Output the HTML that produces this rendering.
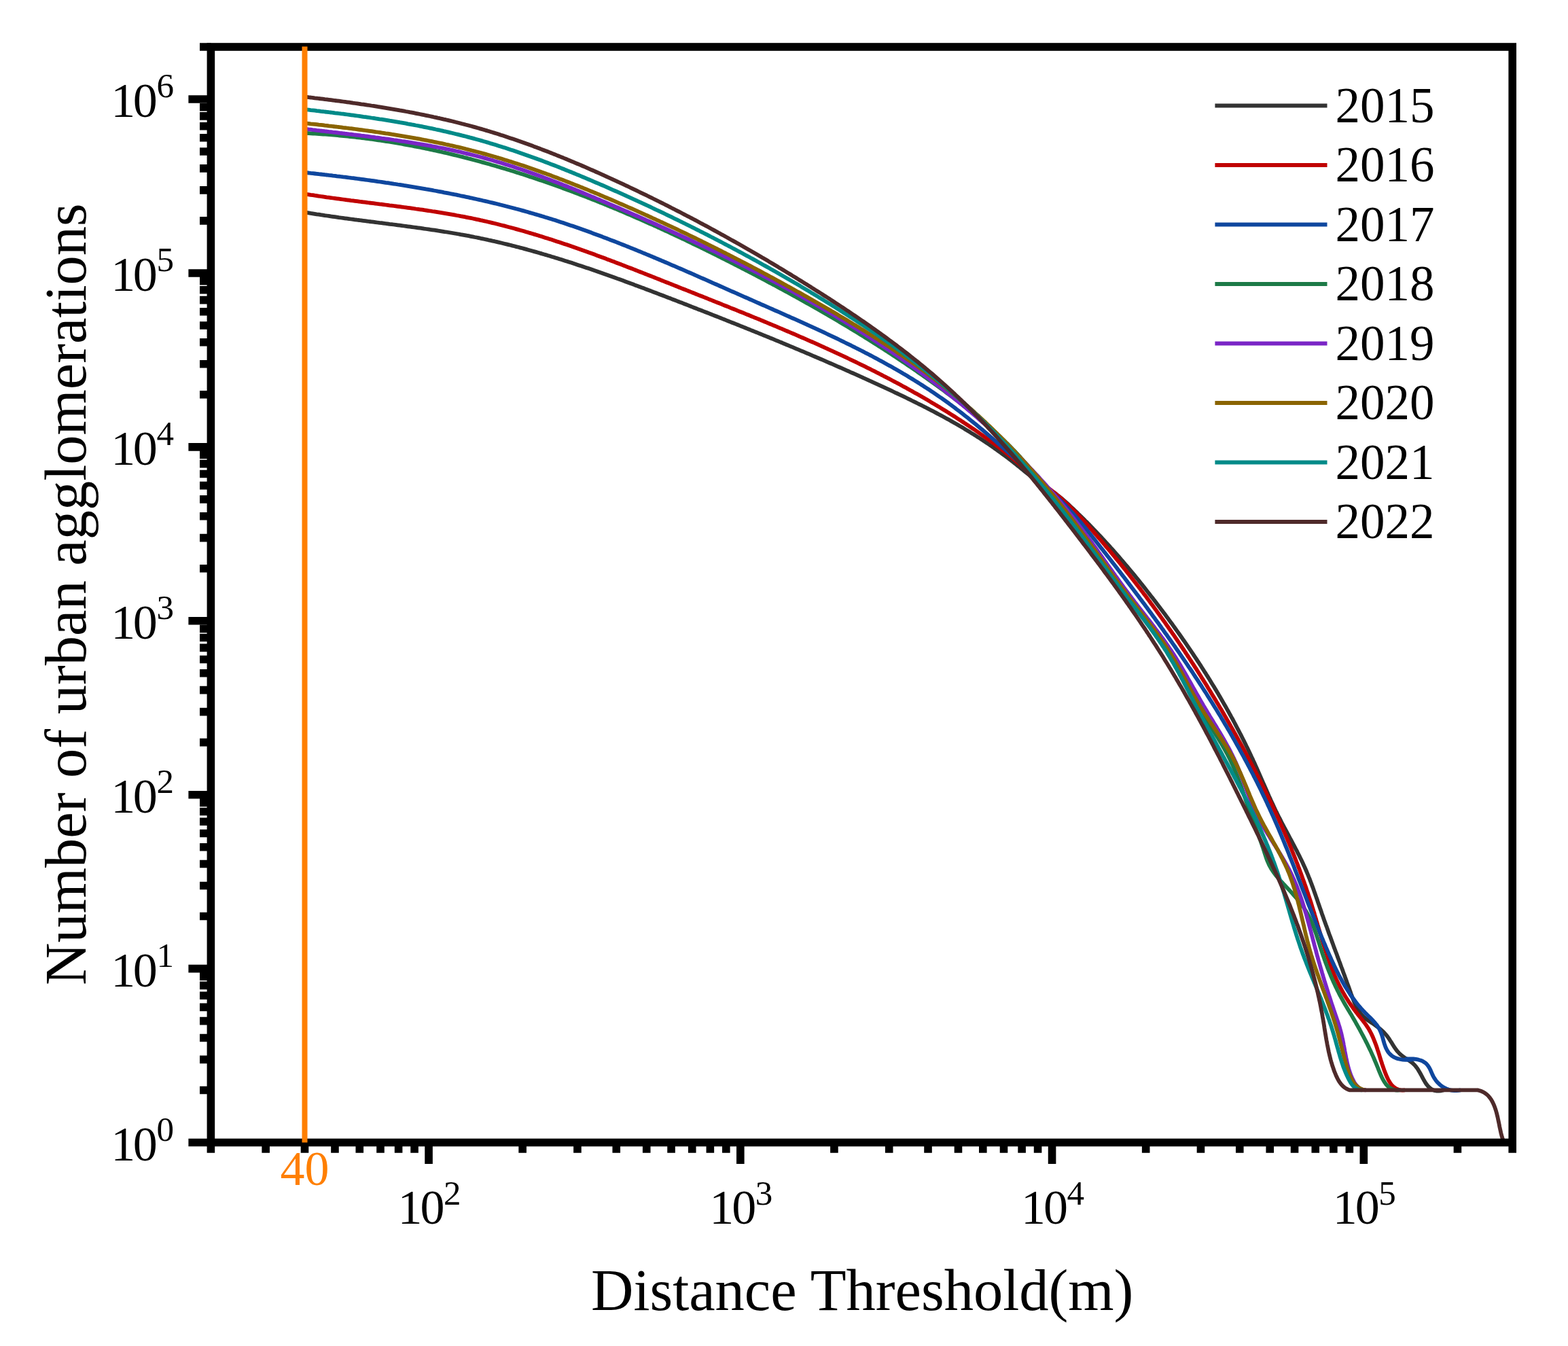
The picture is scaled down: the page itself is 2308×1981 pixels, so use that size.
<!DOCTYPE html><html><head><meta charset="utf-8"><title>Distance Threshold chart</title><style>html,body{margin:0;padding:0;background:#fff;}svg{display:block;}</style></head><body>
<svg width="2308" height="1981" viewBox="0 0 2308 1981">
<rect x="0" y="0" width="2308" height="1981" fill="#fff"/>
<path d="M448.5,312.4L451.4,312.9L454.4,313.4L457.3,313.9L460.3,314.3L463.2,314.8L466.2,315.3L469.1,315.7L472.1,316.2L475.1,316.6L478.0,317.1L481.0,317.5L484.0,317.9L486.9,318.4L489.9,318.8L492.9,319.2L495.8,319.6L498.8,320.1L501.8,320.5L504.8,320.9L507.7,321.3L510.7,321.7L513.7,322.1L516.7,322.5L519.7,322.9L522.6,323.3L525.6,323.7L528.6,324.0L531.6,324.4L534.6,324.8L537.6,325.2L540.6,325.6L543.6,326.0L546.6,326.3L549.5,326.7L552.5,327.1L555.5,327.5L558.5,327.9L561.5,328.2L564.5,328.6L567.5,329.0L570.5,329.4L573.5,329.8L576.5,330.1L579.5,330.5L582.5,330.9L585.5,331.3L588.5,331.7L591.5,332.1L594.5,332.5L597.4,332.9L600.4,333.3L603.4,333.7L606.4,334.1L609.4,334.5L612.4,334.9L615.4,335.3L618.4,335.7L621.4,336.1L624.4,336.6L627.3,337.0L630.3,337.4L633.3,337.9L636.3,338.3L639.3,338.7L642.3,339.2L645.3,339.7L648.2,340.1L651.2,340.6L654.2,341.1L657.2,341.5L660.1,342.0L663.1,342.5L666.1,343.0L669.0,343.5L672.0,344.0L675.0,344.5L677.9,345.1L680.9,345.6L683.9,346.1L686.8,346.7L689.8,347.2L692.7,347.8L695.7,348.4L698.6,349.0L701.6,349.5L704.5,350.1L707.5,350.8L710.4,351.4L713.3,352.0L716.3,352.6L719.2,353.3L722.1,353.9L725.1,354.6L728.0,355.2L730.9,355.9L733.9,356.6L736.8,357.3L739.7,358.0L742.6,358.7L745.5,359.4L748.4,360.1L751.3,360.8L754.3,361.6L757.2,362.3L760.1,363.1L763.0,363.8L765.9,364.6L768.8,365.3L771.7,366.1L774.6,366.9L777.4,367.7L780.3,368.5L783.2,369.3L786.1,370.1L789.0,370.9L791.9,371.7L794.8,372.6L797.6,373.4L800.5,374.3L803.4,375.1L806.3,376.0L809.2,376.8L812.0,377.7L814.9,378.5L817.8,379.4L820.6,380.3L823.5,381.2L826.4,382.1L829.2,383.0L832.1,383.9L834.9,384.8L837.8,385.7L840.7,386.6L843.5,387.6L846.4,388.5L849.2,389.4L852.1,390.4L854.9,391.3L857.8,392.3L860.6,393.2L863.5,394.2L866.3,395.1L869.2,396.1L872.0,397.1L874.8,398.1L877.7,399.0L880.5,400.0L883.4,401.0L886.2,402.0L889.0,403.0L891.9,404.0L894.7,405.0L897.5,406.0L900.4,407.0L903.2,408.0L906.0,409.0L908.9,410.1L911.7,411.1L914.5,412.1L917.3,413.1L920.2,414.2L923.0,415.2L925.8,416.2L928.6,417.3L931.5,418.3L934.3,419.4L937.1,420.4L939.9,421.5L942.7,422.5L945.5,423.6L948.4,424.6L951.2,425.7L954.0,426.8L956.8,427.8L959.6,428.9L962.4,430.0L965.3,431.0L968.1,432.1L970.9,433.2L973.7,434.2L976.5,435.3L979.3,436.4L982.1,437.5L984.9,438.6L987.7,439.6L990.5,440.7L993.4,441.8L996.2,442.9L999.0,444.0L1001.8,445.1L1004.6,446.1L1007.4,447.2L1010.2,448.3L1013.0,449.4L1015.8,450.5L1018.6,451.6L1021.4,452.7L1024.2,453.8L1027.0,454.9L1029.8,455.9L1032.6,457.0L1035.4,458.1L1038.2,459.2L1041.0,460.3L1043.8,461.4L1046.6,462.5L1049.4,463.6L1052.2,464.7L1055.0,465.8L1057.8,466.9L1060.6,468.0L1063.4,469.1L1066.2,470.2L1069.0,471.4L1071.8,472.5L1074.6,473.6L1077.4,474.7L1080.2,475.8L1083.0,476.9L1085.8,478.0L1088.6,479.1L1091.4,480.3L1094.2,481.4L1097.0,482.5L1099.7,483.6L1102.5,484.7L1105.3,485.9L1108.1,487.0L1110.9,488.1L1113.7,489.2L1116.5,490.4L1119.3,491.5L1122.1,492.6L1124.8,493.8L1127.6,494.9L1130.4,496.0L1133.2,497.2L1136.0,498.3L1138.8,499.4L1141.5,500.6L1144.3,501.7L1147.1,502.9L1149.9,504.0L1152.6,505.2L1155.4,506.3L1158.2,507.5L1161.0,508.6L1163.8,509.8L1166.5,510.9L1169.3,512.1L1172.1,513.3L1174.8,514.4L1177.6,515.6L1180.4,516.8L1183.2,517.9L1185.9,519.1L1188.7,520.3L1191.5,521.4L1194.2,522.6L1197.0,523.8L1199.8,525.0L1202.5,526.2L1205.3,527.3L1208.0,528.5L1210.8,529.7L1213.6,530.9L1216.3,532.1L1219.1,533.3L1221.8,534.5L1224.6,535.7L1227.4,536.9L1230.1,538.1L1232.9,539.3L1235.6,540.5L1238.4,541.7L1241.1,542.9L1243.9,544.1L1246.6,545.3L1249.4,546.5L1252.1,547.8L1254.9,549.0L1257.6,550.2L1260.3,551.4L1263.1,552.7L1265.8,553.9L1268.6,555.1L1271.3,556.4L1274.1,557.6L1276.8,558.8L1279.5,560.1L1282.3,561.3L1285.0,562.6L1287.7,563.8L1290.5,565.1L1293.2,566.3L1295.9,567.6L1298.7,568.9L1301.4,570.1L1304.1,571.4L1306.8,572.6L1309.6,573.9L1312.3,575.2L1315.0,576.5L1317.7,577.8L1320.4,579.0L1323.2,580.3L1325.9,581.6L1328.6,582.9L1331.3,584.2L1334.0,585.5L1336.7,586.8L1339.4,588.1L1342.1,589.5L1344.8,590.8L1347.5,592.1L1350.2,593.5L1352.9,594.8L1355.6,596.1L1358.3,597.5L1360.9,598.9L1363.6,600.2L1366.3,601.6L1368.9,603.0L1371.6,604.4L1374.3,605.7L1376.9,607.1L1379.6,608.6L1382.2,610.0L1384.9,611.4L1387.5,612.8L1390.2,614.3L1392.8,615.7L1395.4,617.1L1398.0,618.6L1400.7,620.1L1403.3,621.6L1405.9,623.0L1408.5,624.5L1411.1,626.0L1413.7,627.6L1416.3,629.1L1418.9,630.6L1421.4,632.2L1424.0,633.7L1426.6,635.3L1429.1,636.9L1431.7,638.4L1434.2,640.0L1436.8,641.6L1439.3,643.3L1441.9,644.9L1444.4,646.5L1446.9,648.2L1449.4,649.8L1451.9,651.5L1454.4,653.2L1456.9,654.9L1459.4,656.6L1461.9,658.3L1464.3,660.1L1466.8,661.8L1469.2,663.6L1471.7,665.3L1474.1,667.1L1476.5,668.9L1479.0,670.7L1481.4,672.5L1483.8,674.3L1486.2,676.1L1488.6,678.0L1490.9,679.8L1493.3,681.7L1495.7,683.5L1498.0,685.4L1500.4,687.3L1502.7,689.2L1505.0,691.1L1507.3,693.0L1509.7,694.9L1512.0,696.7L1514.3,698.6L1516.7,700.5L1519.0,702.3L1521.4,704.1L1523.8,705.8L1526.2,707.6L1528.7,709.3L1531.1,710.9L1533.6,712.6L1536.1,714.2L1538.6,715.9L1541.0,717.5L1543.5,719.2L1546.0,720.8L1548.4,722.6L1550.8,724.3L1553.2,726.1L1555.6,727.9L1557.9,729.8L1560.3,731.7L1562.6,733.6L1564.8,735.5L1567.1,737.5L1569.4,739.5L1571.6,741.5L1573.8,743.5L1576.0,745.6L1578.2,747.6L1580.4,749.7L1582.6,751.8L1584.8,753.9L1586.9,756.0L1589.1,758.1L1591.2,760.2L1593.4,762.3L1595.5,764.4L1597.6,766.5L1599.8,768.6L1601.9,770.8L1604.0,772.9L1606.1,775.1L1608.2,777.2L1610.3,779.4L1612.3,781.5L1614.4,783.7L1616.5,785.9L1618.5,788.1L1620.6,790.3L1622.6,792.5L1624.7,794.7L1626.7,796.9L1628.7,799.1L1630.7,801.3L1632.8,803.5L1634.8,805.8L1636.8,808.0L1638.8,810.2L1640.7,812.5L1642.7,814.7L1644.7,817.0L1646.7,819.2L1648.6,821.5L1650.6,823.8L1652.5,826.0L1654.5,828.3L1656.4,830.6L1658.4,832.9L1660.3,835.2L1662.2,837.5L1664.2,839.8L1666.1,842.1L1668.0,844.4L1669.9,846.7L1671.8,849.1L1673.7,851.4L1675.6,853.7L1677.5,856.1L1679.3,858.4L1681.2,860.7L1683.1,863.1L1685.0,865.4L1686.8,867.8L1688.7,870.2L1690.5,872.5L1692.4,874.9L1694.2,877.3L1696.1,879.6L1697.9,882.0L1699.8,884.4L1701.6,886.8L1703.4,889.2L1705.2,891.6L1707.1,894.0L1708.9,896.4L1710.7,898.8L1712.5,901.2L1714.3,903.6L1716.1,906.0L1717.9,908.4L1719.7,910.8L1721.4,913.3L1723.2,915.7L1725.0,918.1L1726.8,920.6L1728.5,923.0L1730.3,925.5L1732.0,927.9L1733.8,930.4L1735.5,932.8L1737.3,935.3L1739.0,937.7L1740.7,940.2L1742.5,942.7L1744.2,945.1L1745.9,947.6L1747.6,950.1L1749.3,952.6L1751.0,955.1L1752.7,957.6L1754.4,960.1L1756.1,962.6L1757.7,965.1L1759.4,967.6L1761.1,970.1L1762.7,972.6L1764.4,975.1L1766.0,977.7L1767.7,980.2L1769.3,982.7L1770.9,985.2L1772.5,987.8L1774.2,990.3L1775.8,992.9L1777.4,995.4L1779.0,998.0L1780.6,1000.5L1782.1,1003.1L1783.7,1005.7L1785.3,1008.2L1786.9,1010.8L1788.4,1013.4L1790.0,1015.9L1791.5,1018.5L1793.1,1021.1L1794.6,1023.7L1796.1,1026.3L1797.6,1028.9L1799.1,1031.5L1800.6,1034.1L1802.1,1036.7L1803.6,1039.3L1805.1,1041.9L1806.6,1044.6L1808.1,1047.2L1809.5,1049.8L1811.0,1052.5L1812.4,1055.1L1813.9,1057.7L1815.3,1060.4L1816.7,1063.0L1818.1,1065.7L1819.5,1068.3L1820.9,1071.0L1822.3,1073.7L1823.7,1076.3L1825.1,1079.0L1826.5,1081.7L1827.8,1084.3L1829.2,1087.0L1830.5,1089.7L1831.9,1092.4L1833.2,1095.1L1834.5,1097.8L1835.9,1100.5L1837.2,1103.2L1838.5,1105.9L1839.7,1108.6L1841.0,1111.3L1842.3,1114.1L1843.6,1116.8L1844.8,1119.5L1846.1,1122.2L1847.3,1125.0L1848.5,1127.7L1849.8,1130.5L1851.0,1133.2L1852.2,1135.9L1853.4,1138.7L1854.6,1141.4L1855.8,1144.2L1857.0,1146.9L1858.2,1149.7L1859.4,1152.4L1860.7,1155.2L1861.9,1157.9L1863.1,1160.7L1864.3,1163.4L1865.5,1166.2L1866.7,1168.9L1867.9,1171.7L1869.2,1174.4L1870.4,1177.2L1871.7,1179.9L1872.9,1182.6L1874.2,1185.3L1875.5,1188.1L1876.7,1190.8L1878.0,1193.5L1879.4,1196.2L1880.7,1198.9L1882.0,1201.6L1883.4,1204.2L1884.8,1206.9L1886.1,1209.6L1887.5,1212.3L1888.9,1214.9L1890.3,1217.6L1891.7,1220.2L1893.2,1222.9L1894.6,1225.6L1896.0,1228.2L1897.4,1230.9L1898.8,1233.5L1900.3,1236.2L1901.7,1238.8L1903.1,1241.5L1904.5,1244.1L1905.9,1246.8L1907.3,1249.5L1908.7,1252.1L1910.0,1254.8L1911.4,1257.5L1912.8,1260.2L1914.1,1262.9L1915.4,1265.6L1916.7,1268.3L1918.0,1271.0L1919.2,1273.8L1920.5,1276.5L1921.7,1279.2L1922.9,1282.0L1924.1,1284.8L1925.2,1287.5L1926.3,1290.3L1927.5,1293.1L1928.5,1295.9L1929.6,1298.7L1930.7,1301.6L1931.7,1304.4L1932.8,1307.2L1933.8,1310.1L1934.8,1312.9L1935.8,1315.7L1936.8,1318.6L1937.8,1321.4L1938.8,1324.3L1939.7,1327.1L1940.7,1330.0L1941.7,1332.8L1942.7,1335.7L1943.7,1338.5L1944.7,1341.3L1945.6,1344.2L1946.6,1347.0L1947.6,1349.8L1948.6,1352.7L1949.6,1355.5L1950.6,1358.3L1951.6,1361.1L1952.7,1363.9L1953.7,1366.8L1954.7,1369.6L1955.7,1372.4L1956.7,1375.2L1957.8,1378.0L1958.8,1380.8L1959.8,1383.6L1960.8,1386.4L1961.9,1389.2L1962.9,1392.1L1963.9,1394.9L1965.0,1397.7L1966.0,1400.5L1967.1,1403.3L1968.1,1406.1L1969.1,1408.9L1970.2,1411.7L1971.2,1414.5L1972.3,1417.3L1973.3,1420.2L1974.3,1423.0L1975.4,1425.8L1976.4,1428.6L1977.4,1431.4L1978.5,1434.3L1979.5,1437.1L1980.5,1439.9L1981.6,1442.7L1982.6,1445.6L1983.6,1448.4L1984.7,1451.3L1985.7,1454.1L1986.7,1457.0L1987.7,1459.8L1988.7,1462.7L1989.8,1465.5L1990.8,1468.4L1991.9,1471.2L1993.0,1474.0L1994.2,1476.7L1995.4,1479.4L1996.7,1482.1L1998.1,1484.6L1999.6,1487.1L2001.2,1489.5L2002.9,1491.8L2004.8,1494.0L2006.8,1496.1L2008.9,1498.1L2011.2,1499.9L2013.6,1501.7L2016.1,1503.3L2018.6,1505.0L2021.1,1506.7L2023.5,1508.4L2025.9,1510.1L2028.3,1511.9L2030.7,1513.8L2032.9,1515.7L2035.1,1517.7L2037.2,1519.7L2039.2,1521.9L2041.2,1524.2L2043.0,1526.6L2044.7,1529.0L2046.3,1531.6L2048.0,1534.1L2049.6,1536.7L2051.2,1539.3L2052.9,1541.8L2054.6,1544.3L2056.4,1546.7L2058.4,1548.9L2060.4,1551.1L2062.7,1553.0L2065.0,1554.8L2067.5,1556.6L2070.0,1558.2L2072.5,1559.9L2075.0,1561.5L2077.5,1563.3L2079.8,1565.1L2081.9,1567.2L2083.8,1569.4L2085.6,1571.7L2087.3,1574.2L2088.8,1576.7L2090.3,1579.3L2091.8,1582.0L2093.2,1584.7L2094.6,1587.4L2096.1,1590.0L2097.6,1592.6L2099.2,1595.1L2101.0,1597.4L2102.8,1599.5L2104.9,1601.4L2107.1,1603.0L2109.5,1604.3L2112.1,1605.2L2115.0,1605.7L2118.1,1605.7L2121.4,1605.3L2125.0,1604.4" fill="none" stroke="#333333" stroke-width="5.8" stroke-linejoin="round" stroke-linecap="butt"/>
<path d="M448.5,285.4L451.4,285.9L454.4,286.3L457.3,286.8L460.3,287.2L463.2,287.7L466.2,288.1L469.1,288.6L472.1,289.0L475.0,289.4L478.0,289.8L480.9,290.3L483.9,290.7L486.9,291.1L489.8,291.5L492.8,291.9L495.8,292.3L498.8,292.7L501.7,293.1L504.7,293.5L507.7,293.9L510.7,294.3L513.6,294.7L516.6,295.1L519.6,295.4L522.6,295.8L525.6,296.2L528.6,296.6L531.6,297.0L534.6,297.3L537.5,297.7L540.5,298.1L543.5,298.5L546.5,298.8L549.5,299.2L552.5,299.6L555.5,300.0L558.5,300.4L561.5,300.7L564.5,301.1L567.5,301.5L570.5,301.9L573.5,302.3L576.5,302.6L579.5,303.0L582.5,303.4L585.5,303.8L588.5,304.2L591.5,304.6L594.5,305.0L597.5,305.4L600.5,305.8L603.5,306.2L606.5,306.6L609.4,307.0L612.4,307.5L615.4,307.9L618.4,308.3L621.4,308.7L624.4,309.2L627.4,309.6L630.4,310.1L633.4,310.5L636.4,311.0L639.3,311.4L642.3,311.9L645.3,312.4L648.3,312.9L651.3,313.4L654.2,313.9L657.2,314.4L660.2,314.9L663.1,315.4L666.1,315.9L669.1,316.4L672.0,317.0L675.0,317.5L678.0,318.1L680.9,318.6L683.9,319.2L686.8,319.8L689.8,320.4L692.7,320.9L695.7,321.5L698.6,322.2L701.5,322.8L704.5,323.4L707.4,324.1L710.3,324.7L713.3,325.4L716.2,326.0L719.1,326.7L722.0,327.4L724.9,328.1L727.9,328.8L730.8,329.5L733.7,330.2L736.6,331.0L739.5,331.7L742.4,332.4L745.3,333.2L748.2,334.0L751.1,334.7L754.0,335.5L756.9,336.3L759.7,337.1L762.6,337.9L765.5,338.7L768.4,339.5L771.3,340.3L774.2,341.2L777.0,342.0L779.9,342.9L782.8,343.7L785.6,344.6L788.5,345.4L791.4,346.3L794.2,347.2L797.1,348.1L799.9,349.0L802.8,349.9L805.7,350.8L808.5,351.7L811.4,352.6L814.2,353.5L817.0,354.4L819.9,355.4L822.7,356.3L825.6,357.3L828.4,358.2L831.3,359.2L834.1,360.1L836.9,361.1L839.8,362.1L842.6,363.0L845.4,364.0L848.3,365.0L851.1,366.0L853.9,367.0L856.7,368.0L859.6,369.0L862.4,370.0L865.2,371.0L868.0,372.1L870.9,373.1L873.7,374.1L876.5,375.1L879.3,376.2L882.1,377.2L884.9,378.2L887.8,379.3L890.6,380.3L893.4,381.4L896.2,382.4L899.0,383.5L901.8,384.6L904.6,385.6L907.4,386.7L910.2,387.8L913.0,388.8L915.8,389.9L918.7,391.0L921.5,392.1L924.3,393.2L927.1,394.2L929.9,395.3L932.7,396.4L935.5,397.5L938.3,398.6L941.1,399.7L943.9,400.8L946.7,401.9L949.5,403.0L952.3,404.1L955.1,405.2L957.9,406.3L960.7,407.4L963.5,408.5L966.3,409.6L969.1,410.7L971.9,411.8L974.7,413.0L977.5,414.1L980.3,415.2L983.1,416.3L985.9,417.4L988.7,418.5L991.5,419.6L994.3,420.7L997.1,421.8L999.9,423.0L1002.7,424.1L1005.5,425.2L1008.3,426.3L1011.1,427.4L1013.9,428.5L1016.7,429.6L1019.5,430.7L1022.3,431.8L1025.1,433.0L1027.9,434.1L1030.7,435.2L1033.5,436.3L1036.3,437.4L1039.1,438.5L1041.9,439.6L1044.7,440.8L1047.5,441.9L1050.2,443.0L1053.0,444.1L1055.8,445.2L1058.6,446.3L1061.4,447.4L1064.2,448.6L1067.0,449.7L1069.8,450.8L1072.6,451.9L1075.4,453.1L1078.2,454.2L1081.0,455.3L1083.8,456.4L1086.6,457.6L1089.4,458.7L1092.2,459.8L1095.0,460.9L1097.8,462.1L1100.6,463.2L1103.4,464.3L1106.1,465.5L1108.9,466.6L1111.7,467.8L1114.5,468.9L1117.3,470.0L1120.1,471.2L1122.9,472.3L1125.6,473.5L1128.4,474.6L1131.2,475.8L1134.0,477.0L1136.8,478.1L1139.5,479.3L1142.3,480.4L1145.1,481.6L1147.9,482.8L1150.6,483.9L1153.4,485.1L1156.2,486.3L1159.0,487.5L1161.7,488.6L1164.5,489.8L1167.3,491.0L1170.0,492.2L1172.8,493.4L1175.5,494.6L1178.3,495.8L1181.1,497.0L1183.8,498.2L1186.6,499.4L1189.3,500.6L1192.1,501.8L1194.8,503.0L1197.6,504.2L1200.3,505.4L1203.1,506.7L1205.8,507.9L1208.5,509.1L1211.3,510.3L1214.0,511.6L1216.8,512.8L1219.5,514.1L1222.2,515.3L1225.0,516.6L1227.7,517.8L1230.4,519.1L1233.1,520.3L1235.9,521.6L1238.6,522.9L1241.3,524.1L1244.0,525.4L1246.7,526.7L1249.4,528.0L1252.2,529.3L1254.9,530.6L1257.6,531.9L1260.3,533.2L1263.0,534.5L1265.7,535.8L1268.4,537.1L1271.1,538.4L1273.7,539.7L1276.4,541.1L1279.1,542.4L1281.8,543.7L1284.5,545.1L1287.2,546.4L1289.8,547.8L1292.5,549.1L1295.2,550.5L1297.8,551.9L1300.5,553.3L1303.2,554.6L1305.8,556.0L1308.5,557.4L1311.1,558.8L1313.8,560.2L1316.4,561.6L1319.1,563.0L1321.7,564.4L1324.4,565.8L1327.0,567.3L1329.6,568.7L1332.3,570.1L1334.9,571.6L1337.5,573.0L1340.1,574.5L1342.8,575.9L1345.4,577.4L1348.0,578.9L1350.6,580.3L1353.2,581.8L1355.8,583.3L1358.4,584.8L1361.0,586.3L1363.6,587.8L1366.2,589.3L1368.8,590.9L1371.3,592.4L1373.9,593.9L1376.5,595.5L1379.1,597.0L1381.6,598.6L1384.2,600.1L1386.8,601.7L1389.3,603.2L1391.9,604.8L1394.4,606.4L1397.0,608.0L1399.5,609.6L1402.1,611.2L1404.6,612.8L1407.1,614.4L1409.6,616.1L1412.2,617.7L1414.7,619.3L1417.2,621.0L1419.7,622.7L1422.2,624.3L1424.7,626.0L1427.2,627.7L1429.7,629.3L1432.2,631.0L1434.7,632.7L1437.2,634.4L1439.7,636.2L1442.1,637.9L1444.6,639.6L1447.1,641.4L1449.5,643.1L1452.0,644.9L1454.4,646.6L1456.9,648.4L1459.3,650.2L1461.8,652.0L1464.2,653.8L1466.6,655.6L1469.0,657.4L1471.4,659.2L1473.8,661.1L1476.2,662.9L1478.6,664.8L1480.9,666.6L1483.3,668.5L1485.6,670.4L1488.0,672.3L1490.3,674.2L1492.6,676.2L1494.8,678.1L1497.1,680.1L1499.4,682.1L1501.6,684.1L1503.8,686.1L1506.0,688.1L1508.2,690.1L1510.4,692.1L1512.6,694.1L1514.9,696.1L1517.1,698.1L1519.3,700.0L1521.6,702.0L1523.9,703.9L1526.2,705.8L1528.5,707.6L1530.9,709.4L1533.3,711.2L1535.7,713.0L1538.1,714.8L1540.5,716.6L1542.9,718.3L1545.3,720.1L1547.7,721.9L1550.1,723.8L1552.4,725.6L1554.7,727.5L1557.0,729.4L1559.3,731.3L1561.6,733.3L1563.8,735.3L1566.0,737.3L1568.2,739.3L1570.4,741.3L1572.6,743.4L1574.7,745.4L1576.9,747.5L1579.0,749.7L1581.1,751.8L1583.2,753.9L1585.3,756.1L1587.4,758.2L1589.4,760.4L1591.5,762.6L1593.5,764.8L1595.6,767.0L1597.6,769.3L1599.6,771.5L1601.6,773.7L1603.6,776.0L1605.6,778.3L1607.6,780.5L1609.6,782.8L1611.5,785.0L1613.5,787.3L1615.5,789.6L1617.4,791.9L1619.4,794.1L1621.4,796.4L1623.3,798.7L1625.3,801.0L1627.2,803.3L1629.1,805.6L1631.1,807.9L1633.0,810.2L1634.9,812.5L1636.9,814.8L1638.8,817.1L1640.7,819.5L1642.6,821.8L1644.5,824.1L1646.4,826.4L1648.3,828.8L1650.2,831.1L1652.1,833.5L1654.0,835.8L1655.9,838.1L1657.7,840.5L1659.6,842.8L1661.5,845.2L1663.3,847.6L1665.2,849.9L1667.0,852.3L1668.9,854.7L1670.7,857.0L1672.6,859.4L1674.4,861.8L1676.3,864.2L1678.1,866.6L1679.9,869.0L1681.7,871.3L1683.5,873.7L1685.4,876.1L1687.2,878.5L1689.0,880.9L1690.8,883.4L1692.6,885.8L1694.3,888.2L1696.1,890.6L1697.9,893.0L1699.7,895.4L1701.5,897.9L1703.2,900.3L1705.0,902.7L1706.8,905.2L1708.5,907.6L1710.3,910.1L1712.0,912.5L1713.8,914.9L1715.5,917.4L1717.2,919.9L1719.0,922.3L1720.7,924.8L1722.4,927.2L1724.1,929.7L1725.8,932.2L1727.6,934.6L1729.3,937.1L1731.0,939.6L1732.7,942.1L1734.4,944.6L1736.0,947.0L1737.7,949.5L1739.4,952.0L1741.1,954.5L1742.8,957.0L1744.4,959.5L1746.1,962.0L1747.7,964.5L1749.4,967.0L1751.0,969.5L1752.7,972.1L1754.3,974.6L1756.0,977.1L1757.6,979.6L1759.2,982.1L1760.9,984.7L1762.5,987.2L1764.1,989.7L1765.7,992.3L1767.3,994.8L1768.9,997.4L1770.5,999.9L1772.1,1002.5L1773.7,1005.0L1775.3,1007.6L1776.9,1010.1L1778.4,1012.7L1780.0,1015.2L1781.6,1017.8L1783.2,1020.4L1784.7,1022.9L1786.3,1025.5L1787.8,1028.1L1789.4,1030.6L1790.9,1033.2L1792.5,1035.8L1794.0,1038.4L1795.5,1041.0L1797.1,1043.6L1798.6,1046.1L1800.1,1048.7L1801.6,1051.3L1803.1,1053.9L1804.6,1056.5L1806.1,1059.1L1807.6,1061.7L1809.1,1064.3L1810.6,1067.0L1812.1,1069.6L1813.6,1072.2L1815.1,1074.8L1816.5,1077.4L1818.0,1080.0L1819.5,1082.7L1820.9,1085.3L1822.4,1087.9L1823.8,1090.5L1825.3,1093.2L1826.7,1095.8L1828.2,1098.4L1829.6,1101.1L1831.0,1103.7L1832.5,1106.4L1833.9,1109.0L1835.3,1111.7L1836.7,1114.3L1838.1,1117.0L1839.5,1119.6L1840.9,1122.3L1842.3,1124.9L1843.7,1127.6L1845.1,1130.3L1846.5,1132.9L1847.9,1135.6L1849.2,1138.3L1850.6,1140.9L1852.0,1143.6L1853.3,1146.3L1854.7,1149.0L1856.0,1151.6L1857.4,1154.3L1858.7,1157.0L1860.1,1159.7L1861.4,1162.4L1862.7,1165.1L1864.0,1167.8L1865.4,1170.5L1866.7,1173.2L1868.0,1175.9L1869.3,1178.6L1870.6,1181.3L1871.9,1184.0L1873.1,1186.7L1874.4,1189.5L1875.7,1192.2L1877.0,1194.9L1878.2,1197.6L1879.5,1200.3L1880.7,1203.1L1882.0,1205.8L1883.2,1208.5L1884.4,1211.3L1885.7,1214.0L1886.9,1216.8L1888.1,1219.5L1889.3,1222.3L1890.5,1225.0L1891.7,1227.8L1892.9,1230.5L1894.1,1233.3L1895.2,1236.1L1896.4,1238.8L1897.6,1241.6L1898.7,1244.4L1899.9,1247.2L1901.0,1249.9L1902.1,1252.7L1903.2,1255.5L1904.4,1258.3L1905.5,1261.1L1906.6,1263.9L1907.7,1266.7L1908.8,1269.5L1909.9,1272.3L1910.9,1275.1L1912.0,1277.9L1913.1,1280.8L1914.1,1283.6L1915.2,1286.4L1916.2,1289.2L1917.2,1292.1L1918.2,1294.9L1919.3,1297.7L1920.3,1300.6L1921.3,1303.4L1922.3,1306.3L1923.2,1309.1L1924.2,1312.0L1925.2,1314.8L1926.1,1317.7L1927.1,1320.6L1928.0,1323.4L1929.0,1326.3L1929.9,1329.2L1930.8,1332.1L1931.7,1335.0L1932.6,1337.9L1933.5,1340.8L1934.4,1343.6L1935.2,1346.6L1936.1,1349.5L1937.0,1352.4L1937.8,1355.3L1938.7,1358.2L1939.5,1361.1L1940.4,1364.0L1941.2,1366.9L1942.1,1369.8L1942.9,1372.7L1943.8,1375.6L1944.7,1378.5L1945.5,1381.4L1946.4,1384.3L1947.3,1387.2L1948.2,1390.1L1949.1,1393.0L1950.0,1395.9L1950.9,1398.7L1951.8,1401.6L1952.8,1404.5L1953.7,1407.3L1954.7,1410.1L1955.7,1413.0L1956.7,1415.8L1957.7,1418.6L1958.8,1421.4L1959.8,1424.2L1960.9,1427.0L1962.0,1429.8L1963.2,1432.5L1964.3,1435.3L1965.5,1438.0L1966.7,1440.7L1968.0,1443.4L1969.3,1446.1L1970.6,1448.8L1971.9,1451.4L1973.3,1454.1L1974.7,1456.7L1976.1,1459.3L1977.6,1461.9L1979.1,1464.5L1980.6,1467.0L1982.2,1469.5L1983.8,1472.1L1985.4,1474.6L1987.1,1477.0L1988.8,1479.5L1990.5,1481.9L1992.2,1484.4L1994.0,1486.8L1995.8,1489.2L1997.6,1491.5L1999.4,1493.9L2001.3,1496.2L2003.1,1498.5L2005.0,1500.8L2006.8,1503.2L2008.6,1505.5L2010.4,1507.9L2012.0,1510.3L2013.6,1512.8L2015.2,1515.3L2016.6,1517.9L2018.0,1520.5L2019.3,1523.1L2020.5,1525.8L2021.7,1528.6L2022.8,1531.3L2023.9,1534.1L2025.0,1537.0L2026.0,1539.8L2027.0,1542.7L2027.9,1545.6L2028.9,1548.5L2029.8,1551.4L2030.7,1554.3L2031.6,1557.3L2032.5,1560.2L2033.5,1563.1L2034.4,1566.1L2035.4,1569.0L2036.4,1571.9L2037.4,1574.8L2038.5,1577.6L2039.6,1580.5L2040.8,1583.3L2042.0,1586.1L2043.3,1588.8L2044.7,1591.3L2046.3,1593.8L2047.9,1596.1L2049.7,1598.1L2051.7,1600.0L2053.9,1601.5L2056.2,1602.8L2058.8,1603.8L2061.6,1604.4L2064.7,1604.6L2068.0,1604.4" fill="none" stroke="#c00000" stroke-width="5.8" stroke-linejoin="round" stroke-linecap="butt"/>
<path d="M448.5,253.9L451.5,254.2L454.4,254.5L457.4,254.9L460.4,255.2L463.4,255.5L466.4,255.8L469.3,256.2L472.3,256.5L475.3,256.8L478.3,257.2L481.2,257.5L484.2,257.9L487.2,258.2L490.2,258.6L493.2,258.9L496.1,259.3L499.1,259.6L502.1,260.0L505.1,260.4L508.1,260.7L511.1,261.1L514.0,261.5L517.0,261.9L520.0,262.2L523.0,262.6L526.0,263.0L528.9,263.4L531.9,263.8L534.9,264.2L537.9,264.6L540.9,265.0L543.9,265.4L546.8,265.8L549.8,266.2L552.8,266.6L555.8,267.1L558.8,267.5L561.7,267.9L564.7,268.3L567.7,268.8L570.7,269.2L573.7,269.7L576.6,270.1L579.6,270.6L582.6,271.0L585.6,271.5L588.5,271.9L591.5,272.4L594.5,272.9L597.5,273.3L600.4,273.8L603.4,274.3L606.4,274.8L609.4,275.3L612.3,275.8L615.3,276.3L618.3,276.8L621.2,277.3L624.2,277.8L627.2,278.4L630.2,278.9L633.1,279.4L636.1,279.9L639.0,280.5L642.0,281.0L645.0,281.6L647.9,282.1L650.9,282.7L653.8,283.3L656.8,283.8L659.8,284.4L662.7,285.0L665.7,285.6L668.6,286.2L671.6,286.7L674.5,287.3L677.5,288.0L680.4,288.6L683.4,289.2L686.3,289.8L689.3,290.4L692.2,291.1L695.1,291.7L698.1,292.4L701.0,293.0L703.9,293.7L706.9,294.3L709.8,295.0L712.7,295.7L715.7,296.3L718.6,297.0L721.5,297.7L724.5,298.4L727.4,299.1L730.3,299.8L733.2,300.5L736.1,301.3L739.0,302.0L742.0,302.7L744.9,303.5L747.8,304.2L750.7,305.0L753.6,305.7L756.5,306.5L759.4,307.3L762.3,308.0L765.2,308.8L768.1,309.6L771.0,310.4L773.9,311.2L776.8,312.0L779.6,312.9L782.5,313.7L785.4,314.5L788.3,315.4L791.2,316.2L794.0,317.1L796.9,317.9L799.8,318.8L802.7,319.7L805.5,320.5L808.4,321.4L811.2,322.3L814.1,323.2L817.0,324.1L819.8,325.1L822.7,326.0L825.5,326.9L828.4,327.8L831.2,328.8L834.0,329.7L836.9,330.7L839.7,331.7L842.6,332.6L845.4,333.6L848.2,334.6L851.1,335.6L853.9,336.6L856.7,337.6L859.5,338.6L862.4,339.6L865.2,340.6L868.0,341.6L870.8,342.6L873.6,343.7L876.4,344.7L879.2,345.7L882.1,346.8L884.9,347.8L887.7,348.9L890.5,349.9L893.3,351.0L896.1,352.1L898.9,353.2L901.7,354.2L904.5,355.3L907.3,356.4L910.1,357.5L912.9,358.6L915.7,359.7L918.4,360.8L921.2,361.9L924.0,363.0L926.8,364.1L929.6,365.3L932.4,366.4L935.2,367.5L937.9,368.6L940.7,369.8L943.5,370.9L946.3,372.1L949.1,373.2L951.8,374.4L954.6,375.5L957.4,376.7L960.2,377.8L962.9,379.0L965.7,380.2L968.5,381.3L971.2,382.5L974.0,383.7L976.8,384.8L979.5,386.0L982.3,387.2L985.1,388.4L987.8,389.6L990.6,390.8L993.4,391.9L996.1,393.1L998.9,394.3L1001.7,395.5L1004.4,396.7L1007.2,397.9L1009.9,399.1L1012.7,400.3L1015.5,401.5L1018.2,402.7L1021.0,403.9L1023.7,405.2L1026.5,406.4L1029.2,407.6L1032.0,408.8L1034.8,410.0L1037.5,411.2L1040.3,412.4L1043.0,413.6L1045.8,414.9L1048.5,416.1L1051.3,417.3L1054.1,418.5L1056.8,419.7L1059.6,421.0L1062.3,422.2L1065.1,423.4L1067.8,424.6L1070.6,425.8L1073.4,427.1L1076.1,428.3L1078.9,429.5L1081.6,430.7L1084.4,431.9L1087.1,433.2L1089.9,434.4L1092.7,435.6L1095.4,436.8L1098.2,438.0L1100.9,439.2L1103.7,440.5L1106.5,441.7L1109.2,442.9L1112.0,444.1L1114.7,445.3L1117.5,446.5L1120.3,447.8L1123.0,449.0L1125.8,450.2L1128.5,451.4L1131.3,452.6L1134.1,453.8L1136.8,455.0L1139.6,456.3L1142.3,457.5L1145.1,458.7L1147.9,459.9L1150.6,461.1L1153.4,462.4L1156.1,463.6L1158.9,464.8L1161.6,466.0L1164.4,467.3L1167.1,468.5L1169.9,469.7L1172.6,470.9L1175.4,472.2L1178.1,473.4L1180.9,474.7L1183.6,475.9L1186.4,477.1L1189.1,478.4L1191.8,479.6L1194.6,480.9L1197.3,482.1L1200.1,483.4L1202.8,484.6L1205.5,485.9L1208.3,487.2L1211.0,488.4L1213.7,489.7L1216.4,491.0L1219.2,492.3L1221.9,493.6L1224.6,494.8L1227.3,496.1L1230.0,497.4L1232.7,498.7L1235.4,500.0L1238.1,501.3L1240.8,502.6L1243.5,504.0L1246.2,505.3L1248.9,506.6L1251.6,507.9L1254.3,509.3L1257.0,510.6L1259.7,512.0L1262.4,513.3L1265.0,514.7L1267.7,516.0L1270.4,517.4L1273.0,518.8L1275.7,520.1L1278.4,521.5L1281.0,522.9L1283.7,524.3L1286.3,525.7L1289.0,527.1L1291.6,528.5L1294.2,530.0L1296.9,531.4L1299.5,532.8L1302.1,534.3L1304.7,535.7L1307.4,537.2L1310.0,538.6L1312.6,540.1L1315.2,541.6L1317.8,543.0L1320.4,544.5L1323.0,546.0L1325.6,547.5L1328.1,549.0L1330.7,550.6L1333.3,552.1L1335.8,553.6L1338.4,555.2L1341.0,556.7L1343.5,558.3L1346.1,559.9L1348.6,561.4L1351.1,563.0L1353.7,564.6L1356.2,566.2L1358.7,567.8L1361.2,569.5L1363.8,571.1L1366.3,572.7L1368.8,574.4L1371.3,576.1L1373.7,577.7L1376.2,579.4L1378.7,581.1L1381.2,582.8L1383.6,584.5L1386.1,586.2L1388.5,587.9L1391.0,589.7L1393.4,591.4L1395.9,593.2L1398.3,595.0L1400.7,596.7L1403.1,598.5L1405.5,600.3L1407.9,602.2L1410.3,604.0L1412.7,605.8L1415.1,607.6L1417.5,609.5L1419.9,611.4L1422.2,613.2L1424.6,615.1L1426.9,617.0L1429.3,618.9L1431.6,620.8L1434.0,622.7L1436.3,624.6L1438.6,626.5L1441.0,628.5L1443.3,630.4L1445.6,632.3L1447.9,634.3L1450.2,636.2L1452.5,638.2L1454.8,640.2L1457.1,642.1L1459.4,644.1L1461.7,646.1L1464.0,648.1L1466.3,650.1L1468.5,652.1L1470.8,654.1L1473.1,656.1L1475.3,658.1L1477.6,660.1L1479.9,662.1L1482.1,664.1L1484.4,666.1L1486.6,668.1L1488.8,670.1L1491.1,672.2L1493.3,674.2L1495.6,676.2L1497.8,678.2L1500.0,680.2L1502.3,682.3L1504.5,684.3L1506.7,686.3L1508.9,688.3L1511.1,690.4L1513.4,692.4L1515.6,694.4L1517.8,696.4L1520.0,698.5L1522.2,700.5L1524.4,702.5L1526.6,704.5L1528.8,706.5L1531.1,708.5L1533.3,710.5L1535.5,712.6L1537.6,714.6L1539.8,716.6L1542.0,718.6L1544.2,720.6L1546.4,722.6L1548.6,724.7L1550.7,726.7L1552.9,728.8L1555.0,730.8L1557.2,732.9L1559.3,734.9L1561.4,737.0L1563.5,739.1L1565.6,741.2L1567.7,743.3L1569.8,745.5L1571.8,747.6L1573.9,749.8L1575.9,751.9L1577.9,754.1L1580.0,756.3L1582.0,758.6L1583.9,760.8L1585.9,763.1L1587.8,765.4L1589.8,767.6L1591.7,769.9L1593.6,772.3L1595.5,774.6L1597.4,776.9L1599.3,779.3L1601.2,781.6L1603.1,784.0L1605.0,786.3L1606.9,788.7L1608.7,791.1L1610.6,793.4L1612.5,795.8L1614.4,798.2L1616.2,800.5L1618.1,802.9L1619.9,805.3L1621.8,807.6L1623.7,810.0L1625.5,812.4L1627.4,814.7L1629.2,817.1L1631.1,819.5L1632.9,821.8L1634.8,824.2L1636.6,826.6L1638.5,829.0L1640.3,831.3L1642.2,833.7L1644.0,836.1L1645.8,838.5L1647.7,840.8L1649.5,843.2L1651.3,845.6L1653.2,848.0L1655.0,850.3L1656.8,852.7L1658.6,855.1L1660.4,857.5L1662.3,859.9L1664.1,862.3L1665.9,864.7L1667.7,867.0L1669.5,869.4L1671.3,871.8L1673.1,874.2L1674.9,876.6L1676.7,879.0L1678.5,881.4L1680.3,883.8L1682.1,886.2L1683.9,888.6L1685.7,891.0L1687.5,893.4L1689.2,895.8L1691.0,898.2L1692.8,900.7L1694.6,903.1L1696.3,905.5L1698.1,907.9L1699.9,910.3L1701.6,912.8L1703.4,915.2L1705.2,917.6L1706.9,920.0L1708.7,922.5L1710.4,924.9L1712.2,927.3L1713.9,929.8L1715.6,932.2L1717.4,934.6L1719.1,937.1L1720.8,939.5L1722.6,942.0L1724.3,944.4L1726.0,946.9L1727.8,949.4L1729.5,951.8L1731.2,954.3L1732.9,956.7L1734.6,959.2L1736.3,961.7L1738.0,964.2L1739.7,966.6L1741.4,969.1L1743.1,971.6L1744.8,974.1L1746.5,976.6L1748.2,979.1L1749.8,981.6L1751.5,984.0L1753.2,986.5L1754.9,989.0L1756.5,991.6L1758.2,994.1L1759.8,996.6L1761.5,999.1L1763.2,1001.6L1764.8,1004.1L1766.4,1006.6L1768.1,1009.2L1769.7,1011.7L1771.3,1014.2L1773.0,1016.8L1774.6,1019.3L1776.2,1021.8L1777.8,1024.4L1779.4,1026.9L1781.0,1029.5L1782.6,1032.0L1784.2,1034.6L1785.8,1037.1L1787.4,1039.7L1789.0,1042.3L1790.6,1044.8L1792.2,1047.4L1793.7,1050.0L1795.3,1052.5L1796.9,1055.1L1798.4,1057.7L1800.0,1060.3L1801.5,1062.9L1803.0,1065.4L1804.6,1068.0L1806.1,1070.6L1807.6,1073.2L1809.2,1075.8L1810.7,1078.4L1812.2,1081.0L1813.7,1083.6L1815.2,1086.3L1816.7,1088.9L1818.2,1091.5L1819.6,1094.1L1821.1,1096.7L1822.6,1099.4L1824.1,1102.0L1825.5,1104.6L1827.0,1107.3L1828.4,1109.9L1829.9,1112.5L1831.3,1115.2L1832.7,1117.8L1834.2,1120.5L1835.6,1123.1L1837.0,1125.8L1838.4,1128.5L1839.8,1131.1L1841.2,1133.8L1842.6,1136.5L1844.0,1139.1L1845.3,1141.8L1846.7,1144.5L1848.1,1147.2L1849.4,1149.8L1850.8,1152.5L1852.1,1155.2L1853.5,1157.9L1854.8,1160.6L1856.1,1163.3L1857.4,1166.0L1858.7,1168.7L1860.0,1171.4L1861.3,1174.1L1862.6,1176.9L1863.9,1179.6L1865.2,1182.3L1866.4,1185.0L1867.7,1187.7L1869.0,1190.5L1870.2,1193.2L1871.4,1195.9L1872.7,1198.7L1873.9,1201.4L1875.1,1204.2L1876.3,1206.9L1877.5,1209.7L1878.7,1212.4L1879.9,1215.2L1881.1,1217.9L1882.3,1220.7L1883.5,1223.5L1884.6,1226.2L1885.8,1229.0L1886.9,1231.8L1888.1,1234.5L1889.2,1237.3L1890.4,1240.1L1891.5,1242.9L1892.6,1245.7L1893.8,1248.4L1894.9,1251.2L1896.0,1254.0L1897.1,1256.8L1898.2,1259.6L1899.3,1262.4L1900.5,1265.2L1901.6,1268.0L1902.7,1270.8L1903.8,1273.5L1904.9,1276.3L1905.9,1279.1L1907.0,1281.9L1908.1,1284.7L1909.2,1287.5L1910.3,1290.3L1911.4,1293.1L1912.5,1295.9L1913.6,1298.7L1914.7,1301.5L1915.7,1304.3L1916.8,1307.1L1917.9,1309.9L1919.0,1312.7L1920.1,1315.5L1921.2,1318.3L1922.3,1321.2L1923.4,1324.0L1924.4,1326.8L1925.5,1329.6L1926.6,1332.3L1927.7,1335.1L1928.8,1337.9L1929.9,1340.7L1931.0,1343.5L1932.1,1346.3L1933.2,1349.1L1934.4,1351.9L1935.5,1354.7L1936.6,1357.5L1937.7,1360.3L1938.8,1363.1L1940.0,1365.9L1941.1,1368.6L1942.2,1371.4L1943.4,1374.2L1944.5,1377.0L1945.7,1379.8L1946.9,1382.5L1948.0,1385.3L1949.2,1388.1L1950.4,1390.8L1951.5,1393.6L1952.7,1396.4L1953.9,1399.1L1955.1,1401.9L1956.3,1404.6L1957.6,1407.4L1958.8,1410.1L1960.0,1412.9L1961.3,1415.6L1962.5,1418.3L1963.8,1421.1L1965.1,1423.8L1966.4,1426.5L1967.7,1429.2L1969.1,1431.8L1970.4,1434.5L1971.8,1437.1L1973.2,1439.8L1974.7,1442.4L1976.1,1445.0L1977.6,1447.6L1979.1,1450.2L1980.6,1452.8L1982.2,1455.3L1983.8,1457.8L1985.4,1460.3L1987.0,1462.8L1988.7,1465.3L1990.4,1467.7L1992.2,1470.1L1994.0,1472.5L1995.8,1474.9L1997.6,1477.3L1999.5,1479.6L2001.5,1481.9L2003.4,1484.1L2005.5,1486.4L2007.5,1488.6L2009.6,1490.8L2011.8,1492.9L2013.9,1495.1L2016.1,1497.2L2018.3,1499.3L2020.4,1501.5L2022.4,1503.7L2024.4,1506.0L2026.3,1508.3L2028.0,1510.7L2029.6,1513.2L2031.0,1515.8L2032.2,1518.5L2033.3,1521.4L2034.3,1524.3L2035.2,1527.2L2036.0,1530.2L2036.8,1533.2L2037.7,1536.1L2038.7,1539.0L2039.8,1541.9L2041.1,1544.6L2042.6,1547.2L2044.3,1549.6L2046.3,1551.8L2048.6,1553.8L2051.3,1555.6L2054.2,1557.0L2057.5,1558.2L2061.1,1559.0L2064.9,1559.6L2068.7,1559.8L2072.3,1559.9L2075.3,1559.8L2077.6,1559.6L2078.9,1559.4L2079.0,1559.2L2077.8,1559.1L2075.6,1559.0L2073.1,1558.9L2071.0,1558.9L2069.8,1558.7L2070.1,1558.6L2071.5,1558.4L2073.8,1558.3L2076.8,1558.3L2080.4,1558.5L2084.1,1558.9L2087.9,1559.7L2091.5,1560.7L2094.7,1562.2L2097.5,1563.9L2099.9,1566.0L2101.8,1568.3L2103.5,1570.8L2104.9,1573.5L2106.2,1576.3L2107.4,1579.1L2108.6,1581.9L2110.0,1584.6L2111.5,1587.2L2113.2,1589.7L2115.0,1592.0L2117.1,1594.2L2119.2,1596.2L2121.5,1598.1L2124.0,1599.7L2126.5,1601.2L2129.2,1602.4L2132.0,1603.5L2134.8,1604.3L2137.7,1604.8L2140.7,1605.1L2143.8,1605.2L2146.9,1604.9L2150.0,1604.4" fill="none" stroke="#0f479e" stroke-width="5.8" stroke-linejoin="round" stroke-linecap="butt"/>
<path d="M448.5,195.9L451.5,196.0L454.6,196.2L457.6,196.4L460.6,196.5L463.7,196.7L466.7,196.9L469.7,197.1L472.8,197.3L475.8,197.5L478.8,197.7L481.8,197.9L484.9,198.2L487.9,198.4L490.9,198.7L493.9,198.9L496.9,199.2L499.9,199.5L503.0,199.8L506.0,200.1L509.0,200.4L512.0,200.7L515.0,201.0L518.0,201.3L521.0,201.6L524.0,202.0L527.0,202.3L530.0,202.7L533.0,203.1L536.0,203.4L538.9,203.8L541.9,204.2L544.9,204.6L547.9,205.0L550.9,205.4L553.9,205.9L556.8,206.3L559.8,206.7L562.8,207.2L565.8,207.6L568.7,208.1L571.7,208.5L574.7,209.0L577.6,209.5L580.6,210.0L583.6,210.5L586.5,211.0L589.5,211.5L592.4,212.0L595.4,212.6L598.3,213.1L601.3,213.6L604.3,214.2L607.2,214.7L610.1,215.3L613.1,215.9L616.0,216.5L619.0,217.0L621.9,217.6L624.9,218.2L627.8,218.8L630.7,219.5L633.7,220.1L636.6,220.7L639.5,221.3L642.4,222.0L645.4,222.6L648.3,223.3L651.2,224.0L654.1,224.6L657.1,225.3L660.0,226.0L662.9,226.7L665.8,227.4L668.7,228.1L671.6,228.8L674.5,229.5L677.4,230.2L680.4,230.9L683.3,231.7L686.2,232.4L689.1,233.2L692.0,233.9L694.9,234.7L697.8,235.5L700.6,236.2L703.5,237.0L706.4,237.8L709.3,238.6L712.2,239.4L715.1,240.2L718.0,241.0L720.9,241.8L723.7,242.7L726.6,243.5L729.5,244.3L732.4,245.2L735.2,246.0L738.1,246.9L741.0,247.7L743.9,248.6L746.7,249.5L749.6,250.3L752.5,251.2L755.3,252.1L758.2,253.0L761.0,253.9L763.9,254.8L766.7,255.7L769.6,256.6L772.5,257.6L775.3,258.5L778.2,259.4L781.0,260.4L783.9,261.3L786.7,262.3L789.5,263.2L792.4,264.2L795.2,265.2L798.1,266.1L800.9,267.1L803.7,268.1L806.6,269.1L809.4,270.1L812.2,271.1L815.1,272.1L817.9,273.1L820.7,274.1L823.5,275.1L826.4,276.1L829.2,277.2L832.0,278.2L834.8,279.2L837.6,280.3L840.4,281.3L843.2,282.4L846.1,283.5L848.9,284.5L851.7,285.6L854.5,286.7L857.3,287.7L860.1,288.8L862.9,289.9L865.7,291.0L868.5,292.1L871.3,293.2L874.1,294.3L876.9,295.4L879.7,296.5L882.5,297.7L885.3,298.8L888.0,299.9L890.8,301.0L893.6,302.2L896.4,303.3L899.2,304.5L902.0,305.6L904.7,306.8L907.5,307.9L910.3,309.1L913.1,310.3L915.8,311.4L918.6,312.6L921.4,313.8L924.1,315.0L926.9,316.2L929.7,317.4L932.4,318.6L935.2,319.8L938.0,321.0L940.7,322.2L943.5,323.4L946.2,324.6L949.0,325.8L951.7,327.0L954.5,328.3L957.2,329.5L960.0,330.7L962.7,332.0L965.5,333.2L968.2,334.5L971.0,335.7L973.7,337.0L976.4,338.2L979.2,339.5L981.9,340.7L984.6,342.0L987.4,343.3L990.1,344.5L992.8,345.8L995.6,347.1L998.3,348.4L1001.0,349.7L1003.7,351.0L1006.5,352.2L1009.2,353.5L1011.9,354.8L1014.6,356.1L1017.3,357.4L1020.1,358.8L1022.8,360.1L1025.5,361.4L1028.2,362.7L1030.9,364.0L1033.6,365.3L1036.3,366.7L1039.0,368.0L1041.7,369.3L1044.4,370.7L1047.1,372.0L1049.8,373.3L1052.5,374.7L1055.2,376.0L1057.9,377.4L1060.6,378.7L1063.3,380.1L1066.0,381.4L1068.7,382.8L1071.4,384.1L1074.1,385.5L1076.8,386.9L1079.4,388.2L1082.1,389.6L1084.8,391.0L1087.5,392.4L1090.2,393.7L1092.8,395.1L1095.5,396.5L1098.2,397.9L1100.9,399.3L1103.5,400.6L1106.2,402.0L1108.9,403.4L1111.5,404.8L1114.2,406.2L1116.9,407.6L1119.5,409.0L1122.2,410.4L1124.8,411.8L1127.5,413.2L1130.2,414.7L1132.8,416.1L1135.5,417.5L1138.1,418.9L1140.8,420.3L1143.4,421.7L1146.1,423.2L1148.7,424.6L1151.4,426.0L1154.0,427.5L1156.6,428.9L1159.3,430.3L1161.9,431.8L1164.5,433.2L1167.2,434.7L1169.8,436.1L1172.4,437.6L1175.1,439.0L1177.7,440.5L1180.3,442.0L1182.9,443.4L1185.6,444.9L1188.2,446.4L1190.8,447.8L1193.4,449.3L1196.0,450.8L1198.6,452.3L1201.2,453.8L1203.9,455.2L1206.5,456.7L1209.1,458.2L1211.7,459.7L1214.3,461.2L1216.9,462.7L1219.5,464.2L1222.0,465.8L1224.6,467.3L1227.2,468.8L1229.8,470.3L1232.4,471.8L1235.0,473.4L1237.6,474.9L1240.1,476.4L1242.7,478.0L1245.3,479.5L1247.9,481.0L1250.4,482.6L1253.0,484.2L1255.6,485.7L1258.1,487.3L1260.7,488.8L1263.2,490.4L1265.8,492.0L1268.3,493.5L1270.9,495.1L1273.4,496.7L1276.0,498.3L1278.5,499.9L1281.1,501.5L1283.6,503.1L1286.2,504.7L1288.7,506.3L1291.2,507.9L1293.7,509.5L1296.3,511.1L1298.8,512.7L1301.3,514.4L1303.8,516.0L1306.4,517.6L1308.9,519.3L1311.4,520.9L1313.9,522.6L1316.4,524.2L1318.9,525.9L1321.4,527.5L1323.9,529.2L1326.4,530.8L1328.9,532.5L1331.4,534.2L1333.9,535.9L1336.3,537.6L1338.8,539.2L1341.3,540.9L1343.8,542.6L1346.3,544.3L1348.7,546.0L1351.2,547.8L1353.7,549.5L1356.1,551.2L1358.6,552.9L1361.0,554.7L1363.5,556.4L1365.9,558.1L1368.4,559.9L1370.8,561.6L1373.3,563.4L1375.7,565.1L1378.2,566.9L1380.6,568.7L1383.0,570.4L1385.4,572.2L1387.9,574.0L1390.3,575.8L1392.7,577.6L1395.1,579.4L1397.5,581.2L1399.9,583.0L1402.3,584.8L1404.7,586.6L1407.1,588.4L1409.5,590.3L1411.9,592.1L1414.3,594.0L1416.7,595.8L1419.1,597.7L1421.4,599.5L1423.8,601.4L1426.2,603.3L1428.5,605.1L1430.9,607.0L1433.2,608.9L1435.6,610.8L1437.9,612.7L1440.2,614.6L1442.5,616.6L1444.8,618.5L1447.1,620.5L1449.4,622.4L1451.7,624.4L1454.0,626.3L1456.2,628.3L1458.5,630.3L1460.8,632.3L1463.0,634.3L1465.2,636.3L1467.4,638.4L1469.6,640.4L1471.8,642.4L1474.0,644.5L1476.2,646.6L1478.4,648.7L1480.5,650.8L1482.7,652.9L1484.8,655.0L1486.9,657.1L1489.0,659.2L1491.1,661.4L1493.2,663.6L1495.2,665.7L1497.3,667.9L1499.3,670.1L1501.3,672.3L1503.3,674.6L1505.3,676.8L1507.3,679.1L1509.3,681.3L1511.3,683.6L1513.2,685.9L1515.2,688.1L1517.1,690.4L1519.1,692.7L1521.0,695.0L1523.0,697.3L1524.9,699.6L1526.9,701.9L1528.8,704.2L1530.8,706.4L1532.7,708.7L1534.7,711.0L1536.6,713.3L1538.6,715.6L1540.5,717.9L1542.5,720.2L1544.4,722.4L1546.4,724.7L1548.4,727.0L1550.3,729.3L1552.3,731.6L1554.2,733.9L1556.2,736.2L1558.1,738.5L1560.0,740.8L1562.0,743.1L1563.9,745.4L1565.9,747.7L1567.8,750.0L1569.7,752.3L1571.6,754.6L1573.5,756.9L1575.4,759.3L1577.4,761.6L1579.2,763.9L1581.1,766.2L1583.0,768.6L1584.9,770.9L1586.8,773.3L1588.6,775.6L1590.5,778.0L1592.3,780.4L1594.2,782.7L1596.0,785.1L1597.8,787.5L1599.6,789.9L1601.4,792.3L1603.2,794.7L1605.0,797.1L1606.8,799.6L1608.5,802.0L1610.3,804.4L1612.0,806.9L1613.7,809.3L1615.4,811.8L1617.2,814.3L1618.9,816.7L1620.6,819.2L1622.3,821.7L1623.9,824.2L1625.6,826.6L1627.3,829.1L1629.0,831.6L1630.7,834.1L1632.3,836.6L1634.0,839.1L1635.7,841.6L1637.3,844.1L1639.0,846.6L1640.7,849.1L1642.4,851.6L1644.1,854.1L1645.7,856.6L1647.4,859.1L1649.1,861.5L1650.8,864.0L1652.5,866.5L1654.2,869.0L1656.0,871.4L1657.7,873.9L1659.4,876.3L1661.2,878.8L1662.9,881.2L1664.7,883.7L1666.5,886.1L1668.3,888.5L1670.1,890.9L1671.9,893.3L1673.7,895.7L1675.5,898.2L1677.3,900.6L1679.2,903.0L1681.0,905.4L1682.8,907.8L1684.6,910.2L1686.4,912.6L1688.3,915.0L1690.1,917.4L1691.9,919.8L1693.7,922.2L1695.5,924.6L1697.3,927.0L1699.1,929.4L1700.8,931.9L1702.6,934.3L1704.3,936.7L1706.1,939.2L1707.8,941.6L1709.5,944.1L1711.2,946.6L1712.9,949.1L1714.5,951.6L1716.2,954.1L1717.8,956.6L1719.4,959.1L1721.0,961.7L1722.6,964.2L1724.1,966.8L1725.6,969.4L1727.1,972.0L1728.6,974.6L1730.1,977.2L1731.5,979.8L1733.0,982.4L1734.4,985.1L1735.9,987.7L1737.3,990.4L1738.7,993.0L1740.1,995.7L1741.5,998.3L1742.9,1001.0L1744.3,1003.7L1745.7,1006.3L1747.1,1009.0L1748.5,1011.7L1749.9,1014.3L1751.3,1017.0L1752.7,1019.6L1754.2,1022.3L1755.6,1024.9L1757.0,1027.6L1758.5,1030.2L1760.0,1032.9L1761.5,1035.5L1762.9,1038.1L1764.5,1040.7L1766.0,1043.3L1767.5,1045.9L1769.1,1048.5L1770.7,1051.0L1772.3,1053.6L1773.9,1056.2L1775.5,1058.7L1777.1,1061.3L1778.7,1063.8L1780.3,1066.4L1781.9,1068.9L1783.5,1071.5L1785.1,1074.0L1786.7,1076.6L1788.3,1079.1L1789.9,1081.7L1791.5,1084.3L1793.1,1086.8L1794.7,1089.4L1796.2,1092.0L1797.8,1094.5L1799.3,1097.1L1800.8,1099.7L1802.3,1102.3L1803.7,1104.9L1805.2,1107.6L1806.6,1110.2L1808.0,1112.8L1809.3,1115.5L1810.7,1118.2L1812.0,1120.9L1813.2,1123.6L1814.5,1126.3L1815.7,1129.0L1816.9,1131.8L1818.0,1134.5L1819.2,1137.3L1820.3,1140.1L1821.4,1142.8L1822.4,1145.6L1823.5,1148.4L1824.5,1151.3L1825.6,1154.1L1826.6,1156.9L1827.6,1159.7L1828.6,1162.6L1829.5,1165.4L1830.5,1168.3L1831.5,1171.1L1832.5,1174.0L1833.4,1176.8L1834.4,1179.7L1835.4,1182.5L1836.4,1185.4L1837.3,1188.2L1838.3,1191.1L1839.3,1193.9L1840.3,1196.8L1841.4,1199.6L1842.4,1202.5L1843.4,1205.3L1844.5,1208.1L1845.5,1210.9L1846.6,1213.8L1847.7,1216.6L1848.7,1219.4L1849.8,1222.2L1850.9,1225.1L1851.9,1227.9L1853.0,1230.7L1854.0,1233.5L1855.0,1236.4L1856.0,1239.2L1857.0,1242.1L1858.0,1244.9L1859.0,1247.8L1859.9,1250.6L1860.8,1253.5L1861.7,1256.4L1862.7,1259.3L1863.6,1262.1L1864.6,1264.9L1865.7,1267.6L1866.9,1270.3L1868.1,1273.0L1869.5,1275.5L1870.9,1278.1L1872.4,1280.5L1874.0,1282.9L1875.7,1285.3L1877.5,1287.6L1879.3,1289.9L1881.2,1292.1L1883.1,1294.4L1885.1,1296.5L1887.2,1298.7L1889.2,1300.9L1891.3,1303.1L1893.3,1305.3L1895.4,1307.5L1897.5,1309.7L1899.5,1311.9L1901.6,1314.2L1903.6,1316.5L1905.6,1318.7L1907.6,1321.0L1909.5,1323.3L1911.5,1325.7L1913.3,1328.1L1915.2,1330.4L1916.9,1332.9L1918.7,1335.3L1920.3,1337.8L1921.9,1340.3L1923.4,1342.9L1924.9,1345.5L1926.3,1348.1L1927.6,1350.7L1928.9,1353.4L1930.1,1356.1L1931.3,1358.8L1932.4,1361.6L1933.5,1364.4L1934.6,1367.2L1935.6,1370.0L1936.6,1372.8L1937.6,1375.6L1938.5,1378.5L1939.4,1381.3L1940.4,1384.2L1941.3,1387.0L1942.2,1389.9L1943.1,1392.8L1944.0,1395.6L1944.9,1398.5L1945.9,1401.3L1946.8,1404.2L1947.8,1407.0L1948.8,1409.9L1949.8,1412.7L1950.8,1415.5L1951.8,1418.3L1952.9,1421.1L1953.9,1423.9L1955.0,1426.7L1956.1,1429.5L1957.3,1432.2L1958.4,1435.0L1959.6,1437.8L1960.8,1440.5L1962.0,1443.2L1963.2,1446.0L1964.5,1448.7L1965.7,1451.4L1967.0,1454.1L1968.3,1456.8L1969.7,1459.5L1971.0,1462.1L1972.4,1464.8L1973.8,1467.5L1975.3,1470.1L1976.7,1472.7L1978.2,1475.4L1979.7,1478.0L1981.2,1480.6L1982.8,1483.2L1984.3,1485.8L1985.9,1488.4L1987.4,1491.0L1989.0,1493.5L1990.5,1496.1L1992.0,1498.7L1993.5,1501.3L1995.0,1503.9L1996.4,1506.5L1997.9,1509.1L1999.3,1511.6L2000.8,1514.2L2002.2,1516.8L2003.6,1519.5L2005.0,1522.1L2006.4,1524.7L2007.8,1527.3L2009.2,1530.0L2010.5,1532.6L2011.9,1535.3L2013.2,1538.0L2014.5,1540.7L2015.8,1543.4L2017.1,1546.1L2018.4,1548.9L2019.6,1551.6L2020.9,1554.4L2022.1,1557.2L2023.3,1560.0L2024.5,1562.8L2025.7,1565.7L2026.9,1568.6L2028.1,1571.5L2029.2,1574.4L2030.4,1577.3L2031.6,1580.2L2032.8,1583.0L2034.1,1585.8L2035.4,1588.4L2036.9,1591.0L2038.4,1593.4L2040.1,1595.7L2041.9,1597.7L2043.8,1599.6L2046.0,1601.2L2048.3,1602.6L2050.8,1603.6L2053.6,1604.3L2056.7,1604.6L2060.0,1604.4" fill="none" stroke="#1d7a47" stroke-width="5.8" stroke-linejoin="round" stroke-linecap="butt"/>
<path d="M448.5,189.7L451.4,190.0L454.4,190.4L457.3,190.7L460.3,191.1L463.3,191.4L466.2,191.8L469.2,192.1L472.1,192.5L475.1,192.8L478.1,193.2L481.0,193.5L484.0,193.9L487.0,194.2L490.0,194.6L492.9,194.9L495.9,195.2L498.9,195.6L501.9,196.0L504.9,196.3L507.9,196.7L510.8,197.0L513.8,197.4L516.8,197.7L519.8,198.1L522.8,198.5L525.8,198.8L528.8,199.2L531.8,199.6L534.8,199.9L537.8,200.3L540.8,200.7L543.8,201.1L546.8,201.5L549.8,201.9L552.8,202.3L555.8,202.6L558.8,203.0L561.8,203.5L564.7,203.9L567.7,204.3L570.7,204.7L573.7,205.1L576.7,205.5L579.7,206.0L582.7,206.4L585.7,206.9L588.7,207.3L591.7,207.8L594.7,208.2L597.7,208.7L600.7,209.1L603.7,209.6L606.7,210.1L609.6,210.6L612.6,211.1L615.6,211.6L618.6,212.1L621.6,212.6L624.6,213.1L627.5,213.6L630.5,214.2L633.5,214.7L636.5,215.3L639.4,215.8L642.4,216.4L645.4,217.0L648.3,217.5L651.3,218.1L654.2,218.7L657.2,219.3L660.1,219.9L663.1,220.6L666.0,221.2L669.0,221.8L671.9,222.5L674.9,223.1L677.8,223.8L680.7,224.5L683.7,225.2L686.6,225.9L689.5,226.6L692.4,227.3L695.3,228.0L698.3,228.8L701.2,229.5L704.1,230.3L707.0,231.0L709.9,231.8L712.8,232.6L715.7,233.4L718.5,234.2L721.4,235.0L724.3,235.8L727.2,236.7L730.0,237.5L732.9,238.4L735.8,239.2L738.6,240.1L741.5,241.0L744.4,241.9L747.2,242.8L750.1,243.7L752.9,244.6L755.8,245.5L758.6,246.5L761.4,247.4L764.3,248.4L767.1,249.3L769.9,250.3L772.8,251.3L775.6,252.2L778.4,253.2L781.2,254.2L784.0,255.2L786.9,256.2L789.7,257.3L792.5,258.3L795.3,259.3L798.1,260.3L800.9,261.4L803.7,262.4L806.5,263.5L809.3,264.5L812.1,265.6L814.9,266.7L817.7,267.8L820.5,268.8L823.3,269.9L826.1,271.0L828.9,272.1L831.6,273.2L834.4,274.3L837.2,275.4L840.0,276.5L842.8,277.7L845.5,278.8L848.3,279.9L851.1,281.0L853.9,282.2L856.6,283.3L859.4,284.5L862.2,285.6L865.0,286.8L867.7,287.9L870.5,289.1L873.3,290.2L876.0,291.4L878.8,292.6L881.6,293.7L884.3,294.9L887.1,296.1L889.8,297.2L892.6,298.4L895.4,299.6L898.1,300.8L900.9,302.0L903.7,303.1L906.4,304.3L909.2,305.5L911.9,306.7L914.7,307.9L917.5,309.1L920.2,310.3L923.0,311.5L925.7,312.7L928.5,313.9L931.2,315.1L934.0,316.3L936.8,317.5L939.5,318.7L942.3,319.9L945.0,321.1L947.8,322.3L950.5,323.6L953.3,324.8L956.0,326.0L958.8,327.2L961.5,328.4L964.3,329.7L967.0,330.9L969.8,332.1L972.5,333.4L975.3,334.6L978.0,335.8L980.8,337.1L983.5,338.3L986.3,339.6L989.0,340.8L991.7,342.1L994.5,343.3L997.2,344.6L1000.0,345.8L1002.7,347.1L1005.4,348.3L1008.2,349.6L1010.9,350.9L1013.6,352.1L1016.4,353.4L1019.1,354.7L1021.8,356.0L1024.5,357.3L1027.3,358.5L1030.0,359.8L1032.7,361.1L1035.4,362.4L1038.2,363.7L1040.9,365.0L1043.6,366.3L1046.3,367.6L1049.0,368.9L1051.8,370.2L1054.5,371.5L1057.2,372.8L1059.9,374.1L1062.6,375.4L1065.3,376.8L1068.0,378.1L1070.7,379.4L1073.4,380.7L1076.1,382.1L1078.8,383.4L1081.5,384.7L1084.2,386.1L1086.9,387.4L1089.6,388.8L1092.3,390.1L1095.0,391.5L1097.7,392.8L1100.4,394.2L1103.1,395.6L1105.7,396.9L1108.4,398.3L1111.1,399.7L1113.8,401.0L1116.5,402.4L1119.1,403.8L1121.8,405.2L1124.5,406.6L1127.1,408.0L1129.8,409.4L1132.5,410.8L1135.1,412.2L1137.8,413.6L1140.5,415.0L1143.1,416.4L1145.8,417.8L1148.4,419.2L1151.1,420.7L1153.7,422.1L1156.4,423.5L1159.0,425.0L1161.7,426.4L1164.3,427.8L1166.9,429.3L1169.6,430.7L1172.2,432.2L1174.8,433.6L1177.5,435.1L1180.1,436.6L1182.7,438.0L1185.3,439.5L1188.0,441.0L1190.6,442.5L1193.2,443.9L1195.8,445.4L1198.4,446.9L1201.0,448.4L1203.6,449.9L1206.2,451.4L1208.8,452.9L1211.4,454.4L1214.0,456.0L1216.6,457.5L1219.2,459.0L1221.8,460.5L1224.4,462.1L1227.0,463.6L1229.5,465.1L1232.1,466.7L1234.7,468.2L1237.3,469.8L1239.8,471.3L1242.4,472.9L1244.9,474.4L1247.5,476.0L1250.1,477.6L1252.6,479.2L1255.2,480.8L1257.7,482.3L1260.3,483.9L1262.8,485.5L1265.3,487.1L1267.9,488.7L1270.4,490.3L1272.9,491.9L1275.5,493.6L1278.0,495.2L1280.5,496.8L1283.0,498.4L1285.6,500.1L1288.1,501.7L1290.6,503.4L1293.1,505.0L1295.6,506.7L1298.1,508.3L1300.6,510.0L1303.1,511.7L1305.6,513.3L1308.0,515.0L1310.5,516.7L1313.0,518.4L1315.5,520.1L1318.0,521.8L1320.4,523.5L1322.9,525.2L1325.4,526.9L1327.8,528.6L1330.3,530.3L1332.7,532.1L1335.2,533.8L1337.6,535.5L1340.1,537.3L1342.5,539.0L1344.9,540.8L1347.4,542.5L1349.8,544.3L1352.2,546.0L1354.6,547.8L1357.1,549.6L1359.5,551.4L1361.9,553.2L1364.3,555.0L1366.7,556.8L1369.1,558.6L1371.5,560.4L1373.9,562.2L1376.2,564.0L1378.6,565.8L1381.0,567.7L1383.4,569.5L1385.8,571.3L1388.1,573.2L1390.5,575.0L1392.8,576.9L1395.2,578.8L1397.5,580.6L1399.9,582.5L1402.2,584.4L1404.6,586.3L1406.9,588.2L1409.2,590.0L1411.6,592.0L1413.9,593.9L1416.2,595.8L1418.5,597.7L1420.8,599.6L1423.1,601.5L1425.4,603.5L1427.7,605.4L1430.0,607.4L1432.3,609.3L1434.6,611.3L1436.9,613.2L1439.1,615.2L1441.4,617.2L1443.7,619.2L1445.9,621.2L1448.2,623.1L1450.4,625.1L1452.7,627.1L1454.9,629.2L1457.1,631.2L1459.4,633.2L1461.6,635.2L1463.8,637.2L1466.0,639.3L1468.2,641.3L1470.4,643.4L1472.6,645.4L1474.8,647.5L1477.0,649.5L1479.2,651.6L1481.4,653.7L1483.5,655.8L1485.7,657.9L1487.8,660.0L1490.0,662.1L1492.1,664.2L1494.3,666.3L1496.4,668.4L1498.5,670.5L1500.7,672.6L1502.8,674.8L1504.9,676.9L1507.0,679.1L1509.1,681.2L1511.2,683.4L1513.3,685.5L1515.3,687.7L1517.4,689.9L1519.5,692.1L1521.5,694.2L1523.6,696.4L1525.6,698.6L1527.7,700.8L1529.7,703.0L1531.7,705.3L1533.7,707.5L1535.8,709.7L1537.8,711.9L1539.8,714.2L1541.7,716.4L1543.7,718.7L1545.7,720.9L1547.7,723.2L1549.6,725.5L1551.6,727.7L1553.6,730.0L1555.5,732.3L1557.4,734.6L1559.4,736.9L1561.3,739.2L1563.2,741.5L1565.1,743.8L1567.0,746.1L1568.9,748.5L1570.8,750.8L1572.6,753.1L1574.5,755.5L1576.4,757.8L1578.2,760.2L1580.1,762.5L1581.9,764.9L1583.7,767.3L1585.5,769.7L1587.4,772.0L1589.2,774.4L1591.0,776.8L1592.8,779.2L1594.6,781.6L1596.3,784.0L1598.1,786.4L1599.9,788.9L1601.7,791.3L1603.4,793.7L1605.2,796.1L1607.0,798.5L1608.7,801.0L1610.5,803.4L1612.2,805.8L1614.0,808.3L1615.7,810.7L1617.4,813.2L1619.2,815.6L1620.9,818.0L1622.7,820.5L1624.4,822.9L1626.1,825.4L1627.9,827.8L1629.6,830.3L1631.3,832.7L1633.1,835.2L1634.8,837.6L1636.6,840.0L1638.3,842.5L1640.1,844.9L1641.8,847.4L1643.6,849.8L1645.3,852.2L1647.1,854.7L1648.8,857.1L1650.6,859.5L1652.4,861.9L1654.1,864.4L1655.9,866.8L1657.7,869.2L1659.5,871.6L1661.3,874.0L1663.1,876.4L1664.9,878.8L1666.7,881.2L1668.5,883.6L1670.3,886.0L1672.2,888.4L1674.0,890.7L1675.8,893.1L1677.7,895.5L1679.5,897.8L1681.4,900.2L1683.2,902.6L1685.1,905.0L1686.9,907.3L1688.7,909.7L1690.6,912.1L1692.4,914.4L1694.3,916.8L1696.1,919.2L1697.9,921.6L1699.7,924.0L1701.5,926.4L1703.3,928.8L1705.1,931.2L1706.9,933.6L1708.7,936.0L1710.5,938.4L1712.2,940.8L1714.0,943.3L1715.7,945.7L1717.4,948.1L1719.2,950.6L1720.8,953.1L1722.5,955.6L1724.2,958.0L1725.8,960.5L1727.5,963.1L1729.1,965.6L1730.7,968.1L1732.3,970.7L1733.8,973.2L1735.4,975.8L1737.0,978.3L1738.5,980.9L1740.0,983.5L1741.5,986.1L1743.1,988.7L1744.6,991.3L1746.1,993.9L1747.6,996.5L1749.0,999.1L1750.5,1001.7L1752.0,1004.3L1753.5,1007.0L1755.0,1009.6L1756.4,1012.2L1757.9,1014.8L1759.4,1017.5L1760.9,1020.1L1762.4,1022.7L1763.9,1025.3L1765.4,1027.9L1766.9,1030.6L1768.4,1033.2L1769.9,1035.8L1771.4,1038.4L1773.0,1041.0L1774.5,1043.6L1776.1,1046.1L1777.6,1048.7L1779.2,1051.3L1780.7,1053.9L1782.3,1056.5L1783.9,1059.0L1785.5,1061.6L1787.0,1064.2L1788.6,1066.8L1790.2,1069.3L1791.7,1071.9L1793.3,1074.5L1794.8,1077.1L1796.4,1079.6L1797.9,1082.2L1799.4,1084.8L1801.0,1087.4L1802.4,1090.0L1803.9,1092.6L1805.4,1095.3L1806.8,1097.9L1808.3,1100.5L1809.7,1103.2L1811.1,1105.8L1812.4,1108.5L1813.8,1111.2L1815.1,1113.9L1816.4,1116.6L1817.6,1119.3L1818.9,1122.0L1820.1,1124.8L1821.3,1127.5L1822.4,1130.3L1823.5,1133.0L1824.7,1135.8L1825.8,1138.6L1826.9,1141.4L1827.9,1144.2L1829.0,1147.0L1830.1,1149.9L1831.1,1152.7L1832.2,1155.5L1833.2,1158.3L1834.3,1161.1L1835.3,1163.9L1836.4,1166.8L1837.5,1169.6L1838.5,1172.4L1839.6,1175.2L1840.7,1178.0L1841.9,1180.7L1843.0,1183.5L1844.2,1186.3L1845.4,1189.0L1846.6,1191.8L1847.9,1194.5L1849.1,1197.2L1850.5,1199.9L1851.8,1202.6L1853.2,1205.3L1854.6,1207.9L1856.1,1210.6L1857.5,1213.2L1859.0,1215.8L1860.5,1218.4L1862.1,1221.0L1863.6,1223.6L1865.2,1226.2L1866.8,1228.8L1868.4,1231.3L1870.0,1233.9L1871.6,1236.5L1873.2,1239.0L1874.8,1241.6L1876.5,1244.1L1878.1,1246.7L1879.7,1249.2L1881.3,1251.8L1882.9,1254.4L1884.5,1256.9L1886.0,1259.5L1887.6,1262.1L1889.1,1264.7L1890.6,1267.3L1892.1,1269.9L1893.6,1272.5L1895.0,1275.1L1896.5,1277.8L1897.8,1280.4L1899.2,1283.1L1900.5,1285.8L1901.8,1288.5L1903.0,1291.2L1904.3,1293.9L1905.4,1296.6L1906.6,1299.4L1907.8,1302.1L1908.9,1304.9L1910.0,1307.7L1911.0,1310.5L1912.1,1313.3L1913.1,1316.1L1914.1,1318.9L1915.1,1321.7L1916.0,1324.6L1917.0,1327.4L1917.9,1330.3L1918.8,1333.1L1919.7,1336.0L1920.5,1338.9L1921.4,1341.8L1922.3,1344.6L1923.1,1347.5L1923.9,1350.4L1924.7,1353.3L1925.5,1356.2L1926.3,1359.1L1927.1,1362.1L1927.9,1365.0L1928.7,1367.9L1929.5,1370.8L1930.2,1373.7L1931.0,1376.7L1931.8,1379.6L1932.5,1382.5L1933.3,1385.4L1934.1,1388.4L1934.8,1391.3L1935.6,1394.2L1936.4,1397.1L1937.2,1400.0L1937.9,1403.0L1938.7,1405.9L1939.5,1408.8L1940.3,1411.7L1941.1,1414.6L1942.0,1417.5L1942.8,1420.4L1943.6,1423.3L1944.4,1426.2L1945.3,1429.1L1946.1,1432.0L1947.0,1434.9L1947.8,1437.8L1948.7,1440.7L1949.5,1443.5L1950.4,1446.4L1951.3,1449.3L1952.2,1452.1L1953.1,1455.0L1954.0,1457.8L1954.8,1460.7L1955.7,1463.5L1956.7,1466.4L1957.6,1469.2L1958.5,1472.0L1959.4,1474.8L1960.3,1477.6L1961.3,1480.5L1962.2,1483.2L1963.1,1486.0L1964.1,1488.8L1965.0,1491.6L1966.0,1494.4L1967.0,1497.2L1967.9,1499.9L1968.9,1502.7L1969.8,1505.5L1970.7,1508.3L1971.6,1511.1L1972.4,1514.0L1973.2,1516.8L1974.0,1519.7L1974.7,1522.7L1975.4,1525.7L1976.0,1528.7L1976.7,1531.7L1977.3,1534.7L1977.8,1537.8L1978.4,1540.9L1979.0,1543.9L1979.5,1547.0L1980.1,1550.1L1980.7,1553.1L1981.3,1556.2L1981.9,1559.2L1982.6,1562.2L1983.2,1565.2L1984.0,1568.2L1984.7,1571.1L1985.6,1574.0L1986.5,1576.8L1987.4,1579.6L1988.4,1582.4L1989.5,1585.0L1990.7,1587.7L1992.0,1590.2L1993.3,1592.7L1994.8,1595.1L1996.5,1597.3L1998.3,1599.3L2000.3,1601.0L2002.5,1602.4L2005.1,1603.5L2007.9,1604.2L2011.0,1604.4" fill="none" stroke="#7a25c6" stroke-width="5.8" stroke-linejoin="round" stroke-linecap="butt"/>
<path d="M448.5,181.3L451.5,181.6L454.4,181.9L457.4,182.3L460.4,182.6L463.4,182.9L466.3,183.2L469.3,183.6L472.3,183.9L475.3,184.2L478.2,184.6L481.2,184.9L484.2,185.3L487.2,185.6L490.2,186.0L493.1,186.3L496.1,186.7L499.1,187.0L502.1,187.4L505.1,187.8L508.0,188.1L511.0,188.5L514.0,188.9L517.0,189.2L520.0,189.6L523.0,190.0L525.9,190.4L528.9,190.8L531.9,191.2L534.9,191.6L537.9,192.0L540.9,192.4L543.8,192.8L546.8,193.2L549.8,193.6L552.8,194.1L555.8,194.5L558.7,194.9L561.7,195.4L564.7,195.8L567.7,196.3L570.7,196.7L573.6,197.2L576.6,197.7L579.6,198.1L582.6,198.6L585.5,199.1L588.5,199.6L591.5,200.1L594.5,200.6L597.4,201.1L600.4,201.6L603.4,202.1L606.3,202.6L609.3,203.1L612.3,203.7L615.2,204.2L618.2,204.7L621.1,205.3L624.1,205.9L627.1,206.4L630.0,207.0L633.0,207.6L635.9,208.2L638.9,208.8L641.8,209.4L644.8,210.0L647.7,210.6L650.7,211.2L653.6,211.8L656.5,212.5L659.5,213.1L662.4,213.8L665.3,214.4L668.3,215.1L671.2,215.8L674.1,216.4L677.1,217.1L680.0,217.8L682.9,218.5L685.8,219.3L688.7,220.0L691.6,220.7L694.6,221.5L697.5,222.2L700.4,223.0L703.3,223.7L706.2,224.5L709.1,225.3L712.0,226.1L714.9,226.9L717.8,227.7L720.6,228.5L723.5,229.4L726.4,230.2L729.3,231.0L732.2,231.9L735.0,232.7L737.9,233.6L740.8,234.5L743.7,235.4L746.5,236.3L749.4,237.2L752.2,238.1L755.1,239.0L758.0,239.9L760.8,240.8L763.7,241.8L766.5,242.7L769.4,243.6L772.2,244.6L775.1,245.6L777.9,246.5L780.7,247.5L783.6,248.5L786.4,249.5L789.2,250.5L792.1,251.5L794.9,252.5L797.7,253.5L800.5,254.5L803.4,255.5L806.2,256.6L809.0,257.6L811.8,258.6L814.6,259.7L817.4,260.7L820.3,261.8L823.1,262.9L825.9,263.9L828.7,265.0L831.5,266.1L834.3,267.2L837.1,268.3L839.9,269.4L842.7,270.5L845.5,271.6L848.3,272.7L851.0,273.8L853.8,274.9L856.6,276.0L859.4,277.2L862.2,278.3L865.0,279.4L867.8,280.6L870.5,281.7L873.3,282.8L876.1,284.0L878.9,285.2L881.6,286.3L884.4,287.5L887.2,288.6L889.9,289.8L892.7,291.0L895.5,292.2L898.2,293.3L901.0,294.5L903.8,295.7L906.5,296.9L909.3,298.1L912.0,299.3L914.8,300.5L917.5,301.7L920.3,302.9L923.1,304.1L925.8,305.3L928.6,306.5L931.3,307.7L934.0,308.9L936.8,310.1L939.5,311.4L942.3,312.6L945.0,313.8L947.8,315.1L950.5,316.3L953.2,317.5L956.0,318.8L958.7,320.0L961.4,321.3L964.2,322.5L966.9,323.8L969.6,325.0L972.3,326.3L975.1,327.5L977.8,328.8L980.5,330.1L983.2,331.3L985.9,332.6L988.7,333.9L991.4,335.2L994.1,336.4L996.8,337.7L999.5,339.0L1002.2,340.3L1004.9,341.6L1007.7,342.9L1010.4,344.2L1013.1,345.5L1015.8,346.8L1018.5,348.1L1021.2,349.4L1023.9,350.7L1026.6,352.0L1029.3,353.4L1032.0,354.7L1034.7,356.0L1037.4,357.3L1040.0,358.7L1042.7,360.0L1045.4,361.3L1048.1,362.7L1050.8,364.0L1053.5,365.4L1056.2,366.7L1058.9,368.1L1061.5,369.4L1064.2,370.8L1066.9,372.1L1069.6,373.5L1072.3,374.8L1074.9,376.2L1077.6,377.6L1080.3,379.0L1082.9,380.3L1085.6,381.7L1088.3,383.1L1090.9,384.5L1093.6,385.9L1096.3,387.2L1098.9,388.6L1101.6,390.0L1104.3,391.4L1106.9,392.8L1109.6,394.2L1112.2,395.6L1114.9,397.0L1117.5,398.4L1120.2,399.9L1122.8,401.3L1125.5,402.7L1128.1,404.1L1130.8,405.5L1133.4,407.0L1136.1,408.4L1138.7,409.8L1141.4,411.3L1144.0,412.7L1146.6,414.1L1149.3,415.6L1151.9,417.0L1154.5,418.5L1157.2,419.9L1159.8,421.4L1162.4,422.8L1165.1,424.3L1167.7,425.7L1170.3,427.2L1172.9,428.7L1175.6,430.1L1178.2,431.6L1180.8,433.1L1183.4,434.6L1186.1,436.0L1188.7,437.5L1191.3,439.0L1193.9,440.5L1196.5,442.0L1199.1,443.5L1201.7,445.0L1204.4,446.5L1207.0,448.0L1209.6,449.5L1212.2,451.0L1214.8,452.5L1217.4,454.0L1220.0,455.5L1222.6,457.0L1225.2,458.6L1227.8,460.1L1230.4,461.6L1233.0,463.1L1235.5,464.7L1238.1,466.2L1240.7,467.7L1243.3,469.3L1245.9,470.8L1248.5,472.4L1251.0,473.9L1253.6,475.5L1256.2,477.1L1258.7,478.6L1261.3,480.2L1263.9,481.8L1266.4,483.4L1269.0,484.9L1271.5,486.5L1274.1,488.1L1276.6,489.7L1279.2,491.3L1281.7,492.9L1284.3,494.5L1286.8,496.1L1289.3,497.8L1291.9,499.4L1294.4,501.0L1296.9,502.7L1299.4,504.3L1302.0,505.9L1304.5,507.6L1307.0,509.2L1309.5,510.9L1312.0,512.6L1314.5,514.2L1317.0,515.9L1319.5,517.6L1321.9,519.3L1324.4,521.0L1326.9,522.7L1329.4,524.4L1331.8,526.1L1334.3,527.8L1336.8,529.5L1339.2,531.2L1341.7,533.0L1344.1,534.7L1346.6,536.4L1349.0,538.2L1351.4,539.9L1353.9,541.7L1356.3,543.5L1358.7,545.2L1361.1,547.0L1363.5,548.8L1365.9,550.6L1368.3,552.4L1370.7,554.2L1373.1,556.0L1375.5,557.9L1377.9,559.7L1380.2,561.5L1382.6,563.4L1385.0,565.2L1387.3,567.1L1389.7,568.9L1392.0,570.8L1394.3,572.7L1396.7,574.6L1399.0,576.5L1401.3,578.4L1403.6,580.3L1405.9,582.2L1408.2,584.1L1410.5,586.0L1412.8,588.0L1415.1,589.9L1417.4,591.9L1419.7,593.8L1421.9,595.8L1424.2,597.8L1426.4,599.8L1428.7,601.7L1430.9,603.7L1433.2,605.7L1435.4,607.8L1437.6,609.8L1439.9,611.8L1442.1,613.8L1444.3,615.9L1446.5,617.9L1448.7,620.0L1450.9,622.0L1453.0,624.1L1455.2,626.1L1457.4,628.2L1459.6,630.3L1461.7,632.4L1463.9,634.5L1466.0,636.6L1468.2,638.7L1470.3,640.8L1472.4,642.9L1474.6,645.1L1476.7,647.2L1478.8,649.3L1480.9,651.5L1483.0,653.6L1485.1,655.8L1487.2,658.0L1489.3,660.1L1491.3,662.3L1493.4,664.5L1495.5,666.7L1497.5,668.9L1499.6,671.1L1501.6,673.3L1503.7,675.5L1505.7,677.7L1507.8,679.9L1509.8,682.1L1511.8,684.4L1513.8,686.6L1515.8,688.8L1517.8,691.1L1519.8,693.3L1521.8,695.6L1523.8,697.8L1525.8,700.1L1527.8,702.4L1529.7,704.7L1531.7,706.9L1533.6,709.2L1535.6,711.5L1537.5,713.8L1539.5,716.1L1541.4,718.4L1543.3,720.7L1545.3,723.0L1547.2,725.4L1549.1,727.7L1551.0,730.0L1552.9,732.3L1554.8,734.7L1556.7,737.0L1558.5,739.4L1560.4,741.7L1562.3,744.1L1564.2,746.4L1566.0,748.8L1567.9,751.1L1569.7,753.5L1571.6,755.9L1573.4,758.3L1575.2,760.6L1577.1,763.0L1578.9,765.4L1580.7,767.8L1582.5,770.2L1584.3,772.6L1586.1,775.0L1587.9,777.4L1589.7,779.8L1591.5,782.2L1593.2,784.7L1595.0,787.1L1596.8,789.5L1598.6,791.9L1600.3,794.3L1602.1,796.8L1603.8,799.2L1605.6,801.6L1607.4,804.1L1609.1,806.5L1610.9,808.9L1612.6,811.4L1614.4,813.8L1616.1,816.2L1617.9,818.7L1619.6,821.1L1621.4,823.5L1623.1,826.0L1624.9,828.4L1626.6,830.8L1628.4,833.3L1630.1,835.7L1631.9,838.1L1633.6,840.6L1635.4,843.0L1637.2,845.4L1638.9,847.9L1640.7,850.3L1642.5,852.7L1644.2,855.1L1646.0,857.6L1647.8,860.0L1649.6,862.4L1651.4,864.8L1653.2,867.2L1655.0,869.6L1656.8,872.0L1658.6,874.4L1660.4,876.8L1662.2,879.2L1664.0,881.6L1665.9,884.0L1667.7,886.4L1669.6,888.8L1671.4,891.2L1673.2,893.5L1675.1,895.9L1676.9,898.3L1678.8,900.7L1680.6,903.0L1682.5,905.4L1684.3,907.8L1686.2,910.2L1688.0,912.6L1689.8,915.0L1691.7,917.3L1693.5,919.7L1695.3,922.1L1697.1,924.5L1698.9,927.0L1700.7,929.4L1702.5,931.8L1704.2,934.2L1706.0,936.7L1707.7,939.1L1709.5,941.6L1711.2,944.0L1712.9,946.5L1714.6,949.0L1716.2,951.5L1717.9,954.0L1719.5,956.5L1721.1,959.0L1722.7,961.5L1724.3,964.1L1725.8,966.7L1727.4,969.2L1728.9,971.8L1730.4,974.4L1731.9,977.0L1733.3,979.6L1734.8,982.2L1736.3,984.9L1737.7,987.5L1739.2,990.1L1740.6,992.7L1742.0,995.4L1743.5,998.0L1744.9,1000.7L1746.3,1003.3L1747.7,1006.0L1749.2,1008.6L1750.6,1011.2L1752.0,1013.9L1753.5,1016.5L1754.9,1019.2L1756.4,1021.8L1757.8,1024.4L1759.3,1027.0L1760.8,1029.6L1762.3,1032.2L1763.8,1034.8L1765.4,1037.4L1766.9,1040.0L1768.5,1042.6L1770.1,1045.1L1771.7,1047.7L1773.3,1050.2L1774.9,1052.7L1776.6,1055.3L1778.2,1057.8L1779.9,1060.3L1781.5,1062.8L1783.2,1065.3L1784.9,1067.8L1786.5,1070.3L1788.2,1072.8L1789.9,1075.4L1791.5,1077.9L1793.2,1080.4L1794.8,1082.9L1796.5,1085.4L1798.1,1087.9L1799.8,1090.4L1801.4,1093.0L1803.0,1095.5L1804.6,1098.1L1806.1,1100.6L1807.7,1103.2L1809.2,1105.7L1810.7,1108.3L1812.2,1110.9L1813.7,1113.5L1815.1,1116.2L1816.5,1118.8L1817.9,1121.4L1819.3,1124.1L1820.6,1126.8L1821.9,1129.5L1823.2,1132.2L1824.4,1134.9L1825.7,1137.6L1826.9,1140.4L1828.1,1143.1L1829.3,1145.9L1830.5,1148.6L1831.6,1151.4L1832.8,1154.2L1834.0,1156.9L1835.1,1159.7L1836.3,1162.5L1837.4,1165.3L1838.6,1168.0L1839.7,1170.8L1840.9,1173.6L1842.1,1176.4L1843.3,1179.1L1844.5,1181.9L1845.7,1184.7L1846.9,1187.4L1848.1,1190.2L1849.4,1192.9L1850.7,1195.6L1852.0,1198.3L1853.3,1201.0L1854.6,1203.7L1856.0,1206.4L1857.4,1209.1L1858.8,1211.7L1860.2,1214.4L1861.7,1217.0L1863.2,1219.7L1864.6,1222.3L1866.1,1224.9L1867.6,1227.6L1869.1,1230.2L1870.6,1232.8L1872.1,1235.4L1873.5,1238.0L1875.0,1240.7L1876.5,1243.3L1878.0,1245.9L1879.4,1248.5L1880.9,1251.2L1882.3,1253.8L1883.7,1256.5L1885.1,1259.1L1886.5,1261.8L1887.9,1264.5L1889.2,1267.2L1890.5,1269.9L1891.8,1272.6L1893.0,1275.3L1894.3,1278.0L1895.4,1280.8L1896.6,1283.5L1897.7,1286.3L1898.8,1289.1L1899.8,1291.9L1900.8,1294.7L1901.8,1297.6L1902.8,1300.4L1903.7,1303.3L1904.6,1306.1L1905.5,1309.0L1906.3,1311.9L1907.2,1314.8L1908.0,1317.7L1908.8,1320.6L1909.6,1323.5L1910.4,1326.5L1911.1,1329.4L1911.9,1332.3L1912.6,1335.3L1913.3,1338.2L1914.0,1341.2L1914.7,1344.1L1915.4,1347.1L1916.1,1350.0L1916.8,1353.0L1917.5,1355.9L1918.2,1358.9L1918.9,1361.8L1919.6,1364.8L1920.2,1367.7L1920.9,1370.7L1921.6,1373.6L1922.3,1376.5L1923.1,1379.5L1923.8,1382.4L1924.5,1385.3L1925.3,1388.2L1926.0,1391.1L1926.8,1394.0L1927.6,1396.9L1928.4,1399.8L1929.3,1402.7L1930.1,1405.6L1931.0,1408.4L1931.9,1411.3L1932.8,1414.1L1933.7,1417.0L1934.6,1419.8L1935.5,1422.6L1936.5,1425.4L1937.5,1428.2L1938.4,1431.0L1939.4,1433.8L1940.4,1436.6L1941.4,1439.4L1942.4,1442.2L1943.4,1445.0L1944.4,1447.8L1945.5,1450.6L1946.5,1453.4L1947.5,1456.2L1948.6,1459.0L1949.6,1461.8L1950.6,1464.6L1951.6,1467.4L1952.7,1470.1L1953.7,1472.9L1954.7,1475.8L1955.7,1478.6L1956.7,1481.4L1957.7,1484.2L1958.7,1487.0L1959.7,1489.9L1960.6,1492.7L1961.6,1495.5L1962.5,1498.4L1963.5,1501.3L1964.4,1504.1L1965.3,1507.0L1966.2,1509.9L1967.1,1512.8L1967.9,1515.7L1968.8,1518.6L1969.6,1521.6L1970.4,1524.5L1971.2,1527.5L1971.9,1530.4L1972.7,1533.4L1973.5,1536.4L1974.2,1539.3L1975.0,1542.3L1975.7,1545.3L1976.5,1548.3L1977.2,1551.2L1978.0,1554.2L1978.8,1557.2L1979.6,1560.1L1980.4,1563.1L1981.3,1566.0L1982.1,1568.9L1983.0,1571.8L1983.9,1574.7L1984.9,1577.5L1985.9,1580.3L1987.0,1583.0L1988.2,1585.6L1989.4,1588.2L1990.8,1590.6L1992.2,1592.9L1993.9,1595.1L1995.6,1597.1L1997.5,1598.9L1999.6,1600.5L2001.9,1601.9L2004.3,1603.0L2007.0,1603.9L2010.0,1604.4" fill="none" stroke="#8a6400" stroke-width="5.8" stroke-linejoin="round" stroke-linecap="butt"/>
<path d="M448.5,161.1L451.5,161.4L454.4,161.7L457.4,162.1L460.4,162.4L463.4,162.7L466.3,163.1L469.3,163.4L472.3,163.8L475.2,164.1L478.2,164.5L481.2,164.8L484.2,165.2L487.2,165.5L490.1,165.9L493.1,166.3L496.1,166.6L499.1,167.0L502.1,167.4L505.0,167.7L508.0,168.1L511.0,168.5L514.0,168.9L517.0,169.3L520.0,169.7L522.9,170.1L525.9,170.5L528.9,170.9L531.9,171.3L534.9,171.8L537.8,172.2L540.8,172.6L543.8,173.0L546.8,173.5L549.8,173.9L552.8,174.4L555.7,174.8L558.7,175.3L561.7,175.7L564.7,176.2L567.6,176.7L570.6,177.2L573.6,177.7L576.6,178.1L579.6,178.6L582.5,179.1L585.5,179.6L588.5,180.2L591.4,180.7L594.4,181.2L597.4,181.7L600.4,182.3L603.3,182.8L606.3,183.4L609.2,183.9L612.2,184.5L615.2,185.0L618.1,185.6L621.1,186.2L624.0,186.8L627.0,187.4L630.0,188.0L632.9,188.6L635.9,189.2L638.8,189.8L641.7,190.5L644.7,191.1L647.6,191.7L650.6,192.4L653.5,193.1L656.5,193.7L659.4,194.4L662.3,195.1L665.2,195.8L668.2,196.5L671.1,197.2L674.0,197.9L676.9,198.6L679.9,199.4L682.8,200.1L685.7,200.8L688.6,201.6L691.5,202.4L694.4,203.1L697.3,203.9L700.2,204.7L703.1,205.5L706.0,206.3L708.9,207.1L711.8,208.0L714.7,208.8L717.5,209.6L720.4,210.5L723.3,211.4L726.2,212.2L729.0,213.1L731.9,214.0L734.8,214.9L737.6,215.8L740.5,216.7L743.4,217.6L746.2,218.5L749.1,219.5L751.9,220.4L754.8,221.3L757.6,222.3L760.5,223.3L763.3,224.2L766.1,225.2L769.0,226.2L771.8,227.2L774.6,228.2L777.5,229.2L780.3,230.2L783.1,231.2L786.0,232.2L788.8,233.2L791.6,234.3L794.4,235.3L797.2,236.3L800.0,237.4L802.8,238.5L805.7,239.5L808.5,240.6L811.3,241.7L814.1,242.7L816.9,243.8L819.7,244.9L822.5,246.0L825.3,247.1L828.0,248.2L830.8,249.3L833.6,250.5L836.4,251.6L839.2,252.7L842.0,253.8L844.8,255.0L847.5,256.1L850.3,257.3L853.1,258.4L855.9,259.6L858.6,260.7L861.4,261.9L864.2,263.1L866.9,264.2L869.7,265.4L872.5,266.6L875.2,267.8L878.0,269.0L880.8,270.1L883.5,271.3L886.3,272.5L889.0,273.7L891.8,274.9L894.5,276.1L897.3,277.4L900.0,278.6L902.8,279.8L905.5,281.0L908.3,282.2L911.0,283.4L913.8,284.7L916.5,285.9L919.3,287.1L922.0,288.4L924.7,289.6L927.5,290.9L930.2,292.1L932.9,293.3L935.7,294.6L938.4,295.9L941.1,297.1L943.9,298.4L946.6,299.6L949.3,300.9L952.0,302.2L954.8,303.4L957.5,304.7L960.2,306.0L962.9,307.3L965.6,308.6L968.4,309.8L971.1,311.1L973.8,312.4L976.5,313.7L979.2,315.0L981.9,316.3L984.6,317.6L987.3,318.9L990.0,320.2L992.7,321.6L995.4,322.9L998.1,324.2L1000.8,325.5L1003.5,326.8L1006.2,328.2L1008.9,329.5L1011.6,330.8L1014.3,332.2L1017.0,333.5L1019.7,334.9L1022.4,336.2L1025.1,337.6L1027.7,338.9L1030.4,340.3L1033.1,341.6L1035.8,343.0L1038.5,344.4L1041.1,345.7L1043.8,347.1L1046.5,348.5L1049.2,349.8L1051.8,351.2L1054.5,352.6L1057.2,354.0L1059.8,355.4L1062.5,356.8L1065.2,358.2L1067.8,359.6L1070.5,361.0L1073.1,362.4L1075.8,363.8L1078.4,365.2L1081.1,366.6L1083.7,368.0L1086.4,369.5L1089.0,370.9L1091.7,372.3L1094.3,373.7L1097.0,375.2L1099.6,376.6L1102.3,378.0L1104.9,379.5L1107.5,380.9L1110.2,382.4L1112.8,383.8L1115.4,385.3L1118.1,386.7L1120.7,388.2L1123.3,389.7L1125.9,391.1L1128.6,392.6L1131.2,394.1L1133.8,395.6L1136.4,397.0L1139.0,398.5L1141.7,400.0L1144.3,401.5L1146.9,403.0L1149.5,404.5L1152.1,406.0L1154.7,407.5L1157.3,409.0L1159.9,410.5L1162.5,412.0L1165.1,413.5L1167.7,415.0L1170.3,416.6L1172.9,418.1L1175.5,419.6L1178.1,421.1L1180.7,422.7L1183.3,424.2L1185.8,425.7L1188.4,427.3L1191.0,428.8L1193.6,430.4L1196.2,431.9L1198.7,433.5L1201.3,435.0L1203.9,436.6L1206.5,438.2L1209.0,439.7L1211.6,441.3L1214.1,442.9L1216.7,444.5L1219.3,446.1L1221.8,447.6L1224.4,449.2L1226.9,450.8L1229.5,452.4L1232.0,454.0L1234.6,455.6L1237.1,457.2L1239.7,458.8L1242.2,460.5L1244.7,462.1L1247.3,463.7L1249.8,465.3L1252.3,467.0L1254.9,468.6L1257.4,470.2L1259.9,471.9L1262.4,473.5L1264.9,475.2L1267.4,476.8L1270.0,478.5L1272.5,480.2L1275.0,481.8L1277.5,483.5L1280.0,485.2L1282.4,486.9L1284.9,488.6L1287.4,490.2L1289.9,491.9L1292.4,493.7L1294.8,495.4L1297.3,497.1L1299.8,498.8L1302.2,500.5L1304.7,502.2L1307.2,504.0L1309.6,505.7L1312.1,507.5L1314.5,509.2L1316.9,511.0L1319.4,512.7L1321.8,514.5L1324.2,516.2L1326.7,518.0L1329.1,519.8L1331.5,521.6L1333.9,523.4L1336.3,525.2L1338.7,527.0L1341.1,528.8L1343.5,530.6L1345.9,532.4L1348.3,534.2L1350.6,536.1L1353.0,537.9L1355.4,539.8L1357.7,541.6L1360.1,543.5L1362.5,545.3L1364.8,547.2L1367.1,549.1L1369.5,550.9L1371.8,552.8L1374.1,554.7L1376.5,556.6L1378.8,558.5L1381.1,560.4L1383.4,562.4L1385.7,564.3L1388.0,566.2L1390.3,568.2L1392.6,570.1L1394.8,572.1L1397.1,574.0L1399.4,576.0L1401.6,578.0L1403.9,579.9L1406.2,581.9L1408.4,583.9L1410.6,585.9L1412.9,587.9L1415.1,589.9L1417.3,592.0L1419.5,594.0L1421.7,596.0L1423.9,598.1L1426.1,600.1L1428.3,602.1L1430.5,604.2L1432.7,606.3L1434.9,608.3L1437.1,610.4L1439.2,612.5L1441.4,614.6L1443.5,616.7L1445.7,618.8L1447.8,620.9L1450.0,623.0L1452.1,625.1L1454.2,627.2L1456.4,629.4L1458.5,631.5L1460.6,633.6L1462.7,635.8L1464.8,637.9L1466.9,640.1L1469.0,642.3L1471.1,644.4L1473.1,646.6L1475.2,648.8L1477.3,651.0L1479.4,653.1L1481.4,655.3L1483.5,657.5L1485.5,659.7L1487.6,661.9L1489.6,664.2L1491.6,666.4L1493.7,668.6L1495.7,670.8L1497.7,673.1L1499.7,675.3L1501.7,677.5L1503.7,679.8L1505.7,682.0L1507.7,684.3L1509.7,686.6L1511.7,688.8L1513.7,691.1L1515.6,693.4L1517.6,695.6L1519.6,697.9L1521.5,700.2L1523.5,702.5L1525.4,704.8L1527.4,707.1L1529.3,709.4L1531.3,711.7L1533.2,714.0L1535.1,716.3L1537.1,718.6L1539.0,720.9L1540.9,723.3L1542.8,725.6L1544.7,727.9L1546.6,730.3L1548.5,732.6L1550.4,734.9L1552.3,737.3L1554.1,739.6L1556.0,742.0L1557.9,744.3L1559.8,746.7L1561.6,749.0L1563.5,751.4L1565.3,753.8L1567.2,756.1L1569.0,758.5L1570.9,760.9L1572.7,763.3L1574.5,765.6L1576.4,768.0L1578.2,770.4L1580.0,772.8L1581.8,775.2L1583.6,777.6L1585.4,780.0L1587.2,782.4L1589.0,784.8L1590.8,787.2L1592.6,789.6L1594.4,792.0L1596.2,794.4L1598.0,796.8L1599.8,799.2L1601.6,801.6L1603.3,804.0L1605.1,806.5L1606.9,808.9L1608.7,811.3L1610.4,813.7L1612.2,816.1L1614.0,818.5L1615.8,821.0L1617.5,823.4L1619.3,825.8L1621.1,828.2L1622.8,830.6L1624.6,833.1L1626.4,835.5L1628.2,837.9L1629.9,840.3L1631.7,842.7L1633.5,845.2L1635.3,847.6L1637.0,850.0L1638.8,852.4L1640.6,854.8L1642.4,857.3L1644.2,859.7L1646.0,862.1L1647.8,864.5L1649.6,866.9L1651.4,869.3L1653.2,871.7L1655.0,874.1L1656.8,876.5L1658.6,879.0L1660.4,881.4L1662.2,883.8L1664.1,886.2L1665.9,888.5L1667.7,890.9L1669.5,893.3L1671.4,895.7L1673.2,898.1L1675.0,900.5L1676.9,902.9L1678.7,905.3L1680.5,907.7L1682.3,910.1L1684.2,912.6L1686.0,915.0L1687.8,917.4L1689.6,919.8L1691.4,922.2L1693.2,924.6L1694.9,927.1L1696.7,929.5L1698.5,932.0L1700.2,934.4L1701.9,936.9L1703.7,939.3L1705.4,941.8L1707.1,944.3L1708.8,946.8L1710.4,949.3L1712.1,951.8L1713.7,954.3L1715.4,956.8L1717.0,959.3L1718.6,961.9L1720.1,964.4L1721.7,967.0L1723.2,969.6L1724.7,972.2L1726.3,974.7L1727.8,977.3L1729.2,980.0L1730.7,982.6L1732.2,985.2L1733.6,987.8L1735.1,990.4L1736.5,993.1L1737.9,995.7L1739.3,998.4L1740.7,1001.0L1742.1,1003.7L1743.5,1006.3L1744.9,1009.0L1746.3,1011.7L1747.7,1014.3L1749.1,1017.0L1750.4,1019.7L1751.8,1022.3L1753.2,1025.0L1754.6,1027.7L1755.9,1030.4L1757.3,1033.0L1758.7,1035.7L1760.1,1038.4L1761.5,1041.0L1762.9,1043.7L1764.3,1046.4L1765.7,1049.0L1767.1,1051.7L1768.5,1054.3L1769.9,1057.0L1771.3,1059.6L1772.8,1062.3L1774.2,1065.0L1775.6,1067.6L1777.0,1070.2L1778.5,1072.9L1779.9,1075.5L1781.4,1078.2L1782.8,1080.8L1784.2,1083.5L1785.7,1086.1L1787.1,1088.8L1788.6,1091.4L1790.0,1094.0L1791.4,1096.7L1792.9,1099.3L1794.3,1102.0L1795.8,1104.6L1797.2,1107.2L1798.7,1109.9L1800.1,1112.5L1801.6,1115.2L1803.0,1117.8L1804.4,1120.5L1805.9,1123.1L1807.3,1125.7L1808.7,1128.4L1810.2,1131.0L1811.6,1133.7L1813.0,1136.3L1814.5,1139.0L1815.9,1141.6L1817.3,1144.3L1818.7,1146.9L1820.1,1149.6L1821.5,1152.3L1822.9,1154.9L1824.3,1157.6L1825.7,1160.2L1827.1,1162.9L1828.5,1165.6L1829.9,1168.2L1831.2,1170.9L1832.6,1173.6L1834.0,1176.3L1835.3,1179.0L1836.7,1181.6L1838.0,1184.3L1839.3,1187.0L1840.7,1189.7L1842.0,1192.4L1843.3,1195.1L1844.6,1197.8L1845.9,1200.5L1847.2,1203.2L1848.5,1205.9L1849.8,1208.6L1851.0,1211.4L1852.3,1214.1L1853.5,1216.8L1854.8,1219.5L1856.0,1222.3L1857.2,1225.0L1858.4,1227.8L1859.6,1230.5L1860.8,1233.3L1862.0,1236.0L1863.2,1238.8L1864.3,1241.6L1865.5,1244.3L1866.6,1247.1L1867.7,1249.9L1868.9,1252.7L1870.0,1255.5L1871.1,1258.3L1872.1,1261.1L1873.2,1263.9L1874.2,1266.7L1875.3,1269.5L1876.3,1272.4L1877.3,1275.2L1878.3,1278.1L1879.3,1280.9L1880.3,1283.8L1881.2,1286.6L1882.2,1289.5L1883.1,1292.3L1884.0,1295.2L1885.0,1298.1L1885.9,1301.0L1886.8,1303.9L1887.6,1306.8L1888.5,1309.7L1889.4,1312.6L1890.3,1315.5L1891.1,1318.4L1892.0,1321.3L1892.8,1324.2L1893.7,1327.1L1894.5,1330.0L1895.4,1332.9L1896.2,1335.8L1897.1,1338.7L1897.9,1341.6L1898.7,1344.5L1899.6,1347.4L1900.4,1350.3L1901.3,1353.2L1902.1,1356.1L1903.0,1359.0L1903.9,1361.9L1904.7,1364.8L1905.6,1367.7L1906.5,1370.5L1907.4,1373.4L1908.3,1376.3L1909.2,1379.2L1910.1,1382.0L1911.1,1384.9L1912.0,1387.7L1913.0,1390.6L1913.9,1393.4L1914.9,1396.2L1915.9,1399.0L1916.9,1401.8L1917.9,1404.7L1919.0,1407.4L1920.0,1410.2L1921.1,1413.0L1922.2,1415.8L1923.3,1418.6L1924.4,1421.3L1925.5,1424.1L1926.6,1426.9L1927.7,1429.6L1928.8,1432.4L1930.0,1435.1L1931.1,1437.9L1932.2,1440.6L1933.4,1443.4L1934.5,1446.1L1935.7,1448.9L1936.8,1451.6L1938.0,1454.4L1939.1,1457.1L1940.2,1459.9L1941.4,1462.6L1942.5,1465.4L1943.7,1468.2L1944.8,1470.9L1945.9,1473.7L1947.0,1476.5L1948.1,1479.3L1949.2,1482.0L1950.3,1484.8L1951.4,1487.7L1952.4,1490.5L1953.5,1493.3L1954.5,1496.1L1955.5,1499.0L1956.6,1501.8L1957.5,1504.7L1958.5,1507.5L1959.5,1510.4L1960.4,1513.3L1961.3,1516.2L1962.2,1519.1L1963.1,1522.1L1964.0,1525.0L1964.8,1528.0L1965.7,1530.9L1966.5,1533.9L1967.3,1536.9L1968.1,1539.8L1969.0,1542.8L1969.8,1545.7L1970.6,1548.7L1971.5,1551.6L1972.3,1554.6L1973.2,1557.5L1974.1,1560.3L1975.0,1563.2L1976.0,1566.1L1976.9,1568.9L1977.9,1571.7L1979.0,1574.4L1980.1,1577.1L1981.2,1579.8L1982.4,1582.5L1983.6,1585.1L1984.9,1587.6L1986.2,1590.1L1987.6,1592.6L1989.1,1594.9L1990.7,1597.1L1992.5,1599.1L1994.5,1600.9L1996.7,1602.3L1999.1,1603.4L2001.9,1604.2L2005.0,1604.4" fill="none" stroke="#008a88" stroke-width="5.8" stroke-linejoin="round" stroke-linecap="butt"/>
<path d="M448.5,142.5L451.5,142.8L454.4,143.2L457.4,143.5L460.4,143.9L463.4,144.3L466.3,144.6L469.3,145.0L472.3,145.3L475.2,145.7L478.2,146.1L481.2,146.4L484.2,146.8L487.2,147.2L490.1,147.6L493.1,148.0L496.1,148.3L499.1,148.7L502.0,149.1L505.0,149.5L508.0,149.9L511.0,150.3L514.0,150.7L516.9,151.1L519.9,151.6L522.9,152.0L525.9,152.4L528.9,152.8L531.8,153.3L534.8,153.7L537.8,154.1L540.8,154.6L543.8,155.0L546.7,155.5L549.7,155.9L552.7,156.4L555.7,156.9L558.6,157.3L561.6,157.8L564.6,158.3L567.6,158.8L570.5,159.3L573.5,159.8L576.5,160.3L579.4,160.8L582.4,161.3L585.4,161.8L588.3,162.4L591.3,162.9L594.3,163.4L597.2,164.0L600.2,164.5L603.2,165.1L606.1,165.6L609.1,166.2L612.0,166.8L615.0,167.4L618.0,168.0L620.9,168.6L623.9,169.2L626.8,169.8L629.8,170.4L632.7,171.0L635.6,171.6L638.6,172.3L641.5,172.9L644.5,173.6L647.4,174.2L650.3,174.9L653.3,175.6L656.2,176.2L659.1,176.9L662.1,177.6L665.0,178.3L667.9,179.0L670.8,179.8L673.8,180.5L676.7,181.2L679.6,182.0L682.5,182.7L685.4,183.5L688.3,184.2L691.2,185.0L694.1,185.8L697.0,186.6L699.9,187.4L702.8,188.2L705.7,189.1L708.6,189.9L711.5,190.7L714.3,191.6L717.2,192.4L720.1,193.3L723.0,194.2L725.9,195.1L728.7,195.9L731.6,196.8L734.5,197.7L737.3,198.7L740.2,199.6L743.0,200.5L745.9,201.5L748.7,202.4L751.6,203.4L754.4,204.3L757.3,205.3L760.1,206.3L763.0,207.3L765.8,208.2L768.6,209.2L771.5,210.2L774.3,211.3L777.1,212.3L779.9,213.3L782.8,214.3L785.6,215.4L788.4,216.4L791.2,217.5L794.0,218.5L796.8,219.6L799.6,220.7L802.4,221.8L805.2,222.8L808.0,223.9L810.8,225.0L813.6,226.1L816.4,227.2L819.2,228.4L822.0,229.5L824.8,230.6L827.6,231.7L830.4,232.9L833.2,234.0L835.9,235.2L838.7,236.3L841.5,237.5L844.3,238.6L847.0,239.8L849.8,241.0L852.6,242.2L855.3,243.3L858.1,244.5L860.9,245.7L863.6,246.9L866.4,248.1L869.1,249.3L871.9,250.5L874.6,251.7L877.4,253.0L880.1,254.2L882.9,255.4L885.6,256.6L888.4,257.9L891.1,259.1L893.8,260.4L896.6,261.6L899.3,262.8L902.0,264.1L904.8,265.4L907.5,266.6L910.2,267.9L912.9,269.1L915.7,270.4L918.4,271.7L921.1,273.0L923.8,274.2L926.5,275.5L929.3,276.8L932.0,278.1L934.7,279.4L937.4,280.7L940.1,282.0L942.8,283.3L945.5,284.6L948.2,285.9L950.9,287.2L953.6,288.5L956.3,289.9L959.0,291.2L961.7,292.5L964.4,293.8L967.1,295.2L969.8,296.5L972.5,297.9L975.1,299.2L977.8,300.5L980.5,301.9L983.2,303.2L985.9,304.6L988.5,306.0L991.2,307.3L993.9,308.7L996.6,310.1L999.2,311.4L1001.9,312.8L1004.6,314.2L1007.2,315.6L1009.9,317.0L1012.5,318.4L1015.2,319.7L1017.9,321.1L1020.5,322.5L1023.2,323.9L1025.8,325.3L1028.5,326.8L1031.1,328.2L1033.8,329.6L1036.4,331.0L1039.1,332.4L1041.7,333.8L1044.4,335.3L1047.0,336.7L1049.6,338.1L1052.3,339.6L1054.9,341.0L1057.5,342.5L1060.2,343.9L1062.8,345.4L1065.4,346.8L1068.0,348.3L1070.7,349.7L1073.3,351.2L1075.9,352.7L1078.5,354.1L1081.2,355.6L1083.8,357.1L1086.4,358.5L1089.0,360.0L1091.6,361.5L1094.2,363.0L1096.8,364.5L1099.4,366.0L1102.0,367.5L1104.7,369.0L1107.3,370.5L1109.9,372.0L1112.5,373.5L1115.1,375.0L1117.6,376.5L1120.2,378.0L1122.8,379.6L1125.4,381.1L1128.0,382.6L1130.6,384.1L1133.2,385.7L1135.8,387.2L1138.4,388.8L1140.9,390.3L1143.5,391.8L1146.1,393.4L1148.7,394.9L1151.3,396.5L1153.8,398.0L1156.4,399.6L1159.0,401.2L1161.6,402.7L1164.1,404.3L1166.7,405.9L1169.3,407.4L1171.8,409.0L1174.4,410.6L1176.9,412.2L1179.5,413.8L1182.1,415.4L1184.6,417.0L1187.2,418.5L1189.7,420.1L1192.3,421.7L1194.8,423.4L1197.4,425.0L1199.9,426.6L1202.5,428.2L1205.0,429.8L1207.6,431.4L1210.1,433.0L1212.7,434.7L1215.2,436.3L1217.7,437.9L1220.3,439.5L1222.8,441.2L1225.3,442.8L1227.9,444.5L1230.4,446.1L1232.9,447.8L1235.4,449.4L1238.0,451.1L1240.5,452.7L1243.0,454.4L1245.5,456.1L1248.0,457.7L1250.5,459.4L1253.0,461.1L1255.5,462.8L1258.0,464.5L1260.5,466.2L1263.0,467.9L1265.5,469.6L1268.0,471.3L1270.5,473.0L1272.9,474.7L1275.4,476.4L1277.9,478.1L1280.4,479.9L1282.8,481.6L1285.3,483.3L1287.8,485.1L1290.2,486.8L1292.7,488.6L1295.1,490.3L1297.5,492.1L1300.0,493.8L1302.4,495.6L1304.9,497.4L1307.3,499.2L1309.7,501.0L1312.1,502.7L1314.5,504.5L1316.9,506.3L1319.3,508.1L1321.7,510.0L1324.1,511.8L1326.5,513.6L1328.9,515.4L1331.3,517.3L1333.7,519.1L1336.0,520.9L1338.4,522.8L1340.8,524.7L1343.1,526.5L1345.5,528.4L1347.8,530.3L1350.2,532.1L1352.5,534.0L1354.8,535.9L1357.2,537.8L1359.5,539.7L1361.8,541.6L1364.1,543.6L1366.4,545.5L1368.7,547.4L1371.0,549.3L1373.3,551.3L1375.5,553.2L1377.8,555.2L1380.1,557.2L1382.3,559.1L1384.6,561.1L1386.8,563.1L1389.1,565.1L1391.3,567.1L1393.5,569.1L1395.7,571.1L1397.9,573.1L1400.1,575.1L1402.3,577.2L1404.5,579.2L1406.7,581.3L1408.9,583.3L1411.1,585.4L1413.2,587.5L1415.4,589.5L1417.5,591.6L1419.7,593.7L1421.8,595.8L1424.0,597.9L1426.1,600.0L1428.2,602.1L1430.3,604.2L1432.4,606.4L1434.5,608.5L1436.6,610.7L1438.7,612.8L1440.8,614.9L1442.9,617.1L1445.0,619.3L1447.0,621.4L1449.1,623.6L1451.1,625.8L1453.2,628.0L1455.2,630.2L1457.3,632.4L1459.3,634.6L1461.3,636.8L1463.4,639.0L1465.4,641.2L1467.4,643.4L1469.4,645.7L1471.4,647.9L1473.4,650.1L1475.4,652.4L1477.4,654.6L1479.4,656.9L1481.4,659.1L1483.4,661.4L1485.3,663.6L1487.3,665.9L1489.3,668.2L1491.2,670.4L1493.2,672.7L1495.2,675.0L1497.1,677.3L1499.0,679.6L1501.0,681.9L1502.9,684.2L1504.9,686.5L1506.8,688.8L1508.7,691.1L1510.6,693.4L1512.6,695.7L1514.5,698.1L1516.4,700.4L1518.3,702.7L1520.2,705.0L1522.1,707.4L1524.0,709.7L1525.9,712.0L1527.8,714.4L1529.7,716.7L1531.6,719.1L1533.5,721.4L1535.4,723.8L1537.2,726.1L1539.1,728.5L1541.0,730.8L1542.9,733.2L1544.7,735.6L1546.6,737.9L1548.5,740.3L1550.3,742.7L1552.2,745.0L1554.0,747.4L1555.9,749.8L1557.8,752.1L1559.6,754.5L1561.5,756.9L1563.3,759.3L1565.2,761.7L1567.0,764.0L1568.8,766.4L1570.7,768.8L1572.5,771.2L1574.4,773.6L1576.2,776.0L1578.0,778.3L1579.9,780.7L1581.7,783.1L1583.5,785.5L1585.4,787.9L1587.2,790.3L1589.0,792.7L1590.9,795.1L1592.7,797.5L1594.5,799.9L1596.3,802.3L1598.2,804.7L1600.0,807.1L1601.8,809.4L1603.6,811.8L1605.4,814.2L1607.2,816.7L1609.0,819.1L1610.9,821.5L1612.7,823.9L1614.5,826.3L1616.3,828.7L1618.1,831.1L1619.9,833.5L1621.7,835.9L1623.5,838.3L1625.2,840.7L1627.0,843.2L1628.8,845.6L1630.6,848.0L1632.4,850.4L1634.1,852.8L1635.9,855.3L1637.7,857.7L1639.5,860.1L1641.2,862.6L1643.0,865.0L1644.7,867.4L1646.5,869.9L1648.2,872.3L1650.0,874.7L1651.7,877.2L1653.5,879.6L1655.2,882.1L1657.0,884.5L1658.7,887.0L1660.4,889.4L1662.1,891.9L1663.9,894.3L1665.6,896.8L1667.3,899.3L1669.0,901.7L1670.7,904.2L1672.4,906.7L1674.1,909.1L1675.8,911.6L1677.5,914.1L1679.2,916.6L1680.8,919.1L1682.5,921.6L1684.2,924.0L1685.9,926.5L1687.5,929.0L1689.2,931.5L1690.8,934.0L1692.5,936.5L1694.1,939.0L1695.8,941.6L1697.4,944.1L1699.0,946.6L1700.7,949.1L1702.3,951.6L1703.9,954.2L1705.5,956.7L1707.1,959.2L1708.7,961.8L1710.3,964.3L1711.9,966.8L1713.5,969.4L1715.0,971.9L1716.6,974.5L1718.2,977.0L1719.7,979.6L1721.3,982.2L1722.9,984.7L1724.4,987.3L1726.0,989.9L1727.5,992.4L1729.0,995.0L1730.6,997.6L1732.1,1000.2L1733.6,1002.8L1735.1,1005.4L1736.6,1008.0L1738.2,1010.5L1739.7,1013.1L1741.2,1015.7L1742.7,1018.3L1744.1,1020.9L1745.6,1023.6L1747.1,1026.2L1748.6,1028.8L1750.1,1031.4L1751.5,1034.0L1753.0,1036.6L1754.5,1039.3L1755.9,1041.9L1757.4,1044.5L1758.9,1047.1L1760.3,1049.8L1761.7,1052.4L1763.2,1055.0L1764.6,1057.7L1766.1,1060.3L1767.5,1063.0L1768.9,1065.6L1770.4,1068.2L1771.8,1070.9L1773.2,1073.5L1774.6,1076.2L1776.0,1078.9L1777.4,1081.5L1778.9,1084.2L1780.3,1086.8L1781.7,1089.5L1783.1,1092.1L1784.5,1094.8L1785.9,1097.5L1787.2,1100.1L1788.6,1102.8L1790.0,1105.5L1791.4,1108.2L1792.8,1110.8L1794.2,1113.5L1795.6,1116.2L1796.9,1118.9L1798.3,1121.5L1799.7,1124.2L1801.0,1126.9L1802.4,1129.6L1803.8,1132.3L1805.1,1135.0L1806.5,1137.6L1807.9,1140.3L1809.2,1143.0L1810.6,1145.7L1811.9,1148.4L1813.3,1151.1L1814.6,1153.8L1816.0,1156.5L1817.3,1159.2L1818.7,1161.9L1820.0,1164.6L1821.4,1167.3L1822.7,1170.0L1824.0,1172.7L1825.4,1175.4L1826.7,1178.1L1828.1,1180.8L1829.4,1183.5L1830.7,1186.2L1832.1,1188.9L1833.4,1191.6L1834.7,1194.3L1836.1,1197.0L1837.4,1199.7L1838.7,1202.4L1840.1,1205.1L1841.4,1207.8L1842.7,1210.5L1844.0,1213.2L1845.4,1215.9L1846.7,1218.6L1848.0,1221.3L1849.3,1224.0L1850.6,1226.7L1852.0,1229.4L1853.3,1232.2L1854.6,1234.9L1855.9,1237.6L1857.2,1240.3L1858.5,1243.0L1859.8,1245.7L1861.1,1248.4L1862.4,1251.2L1863.7,1253.9L1865.0,1256.6L1866.2,1259.3L1867.5,1262.0L1868.8,1264.8L1870.1,1267.5L1871.3,1270.2L1872.6,1272.9L1873.8,1275.7L1875.1,1278.4L1876.3,1281.1L1877.6,1283.9L1878.8,1286.6L1880.1,1289.3L1881.3,1292.1L1882.5,1294.8L1883.7,1297.6L1884.9,1300.3L1886.1,1303.1L1887.3,1305.8L1888.5,1308.6L1889.7,1311.3L1890.9,1314.1L1892.0,1316.8L1893.2,1319.6L1894.3,1322.3L1895.5,1325.1L1896.6,1327.9L1897.8,1330.6L1898.9,1333.4L1900.0,1336.2L1901.1,1339.0L1902.2,1341.8L1903.3,1344.5L1904.4,1347.3L1905.4,1350.1L1906.5,1352.9L1907.6,1355.7L1908.6,1358.5L1909.7,1361.3L1910.7,1364.1L1911.7,1366.9L1912.7,1369.7L1913.7,1372.5L1914.7,1375.3L1915.7,1378.2L1916.7,1381.0L1917.6,1383.8L1918.6,1386.6L1919.5,1389.5L1920.5,1392.3L1921.4,1395.2L1922.3,1398.0L1923.2,1400.9L1924.1,1403.7L1925.0,1406.6L1925.9,1409.4L1926.7,1412.3L1927.6,1415.2L1928.4,1418.0L1929.3,1420.9L1930.1,1423.8L1930.9,1426.7L1931.7,1429.6L1932.5,1432.5L1933.3,1435.4L1934.0,1438.3L1934.8,1441.2L1935.5,1444.1L1936.3,1447.0L1937.0,1449.9L1937.7,1452.8L1938.4,1455.8L1939.1,1458.7L1939.8,1461.6L1940.4,1464.6L1941.1,1467.5L1941.7,1470.5L1942.4,1473.5L1943.0,1476.4L1943.6,1479.4L1944.2,1482.4L1944.7,1485.4L1945.3,1488.3L1945.9,1491.3L1946.4,1494.3L1946.9,1497.3L1947.5,1500.4L1948.0,1503.4L1948.5,1506.4L1949.0,1509.4L1949.4,1512.4L1949.9,1515.5L1950.4,1518.5L1950.9,1521.5L1951.4,1524.5L1951.9,1527.5L1952.4,1530.5L1953.0,1533.5L1953.5,1536.5L1954.1,1539.5L1954.7,1542.4L1955.3,1545.4L1955.9,1548.3L1956.6,1551.3L1957.3,1554.2L1958.0,1557.1L1958.7,1560.0L1959.5,1562.8L1960.4,1565.7L1961.2,1568.5L1962.2,1571.3L1963.1,1574.0L1964.1,1576.8L1965.2,1579.5L1966.3,1582.2L1967.5,1584.9L1968.8,1587.5L1970.1,1590.0L1971.6,1592.4L1973.2,1594.7L1975.0,1596.8L1976.9,1598.8L1979.1,1600.6L1981.5,1602.1L1984.1,1603.4L1987.0,1604.4 L2175.0,1604.4 L2175.0,1604.4L2178.2,1605.2L2181.2,1606.3L2183.9,1607.6L2186.4,1609.2L2188.7,1611.0L2190.8,1613.0L2192.7,1615.3L2194.4,1617.6L2196.0,1620.2L2197.4,1622.9L2198.7,1625.7L2199.9,1628.6L2201.0,1631.7L2202.0,1634.8L2202.9,1638.0L2203.7,1641.3L2204.5,1644.5L2205.2,1647.9L2205.9,1651.2L2206.6,1654.5L2207.2,1657.8L2207.9,1661.0L2208.6,1664.2L2209.3,1667.4L2210.1,1670.4L2210.9,1673.4L2211.8,1676.2L2212.7,1678.9L2213.8,1681.5" fill="none" stroke="#4e2a2a" stroke-width="5.8" stroke-linejoin="round" stroke-linecap="butt"/>
<rect x="310.40" y="69.00" width="1915.80" height="1612.50" fill="none" stroke="#000" stroke-width="11.6"/>
<path d="M277.40,1681.50H310.40M294.00,1604.46H310.40M294.00,1559.40H310.40M294.00,1527.43H310.40M294.00,1502.63H310.40M294.00,1482.36H310.40M294.00,1465.23H310.40M294.00,1450.39H310.40M294.00,1437.30H310.40M277.40,1425.59H310.40M294.00,1348.55H310.40M294.00,1303.49H310.40M294.00,1271.52H310.40M294.00,1246.72H310.40M294.00,1226.45H310.40M294.00,1209.32H310.40M294.00,1194.48H310.40M294.00,1181.39H310.40M277.40,1169.68H310.40M294.00,1092.64H310.40M294.00,1047.58H310.40M294.00,1015.61H310.40M294.00,990.81H310.40M294.00,970.54H310.40M294.00,953.41H310.40M294.00,938.57H310.40M294.00,925.48H310.40M277.40,913.77H310.40M294.00,836.73H310.40M294.00,791.67H310.40M294.00,759.69H310.40M294.00,734.89H310.40M294.00,714.63H310.40M294.00,697.50H310.40M294.00,682.66H310.40M294.00,669.57H310.40M277.40,657.86H310.40M294.00,580.82H310.40M294.00,535.76H310.40M294.00,503.78H310.40M294.00,478.98H310.40M294.00,458.72H310.40M294.00,441.59H310.40M294.00,426.75H310.40M294.00,413.66H310.40M277.40,401.95H310.40M294.00,324.91H310.40M294.00,279.85H310.40M294.00,247.87H310.40M294.00,223.07H310.40M294.00,202.81H310.40M294.00,185.68H310.40M294.00,170.84H310.40M294.00,157.75H310.40M277.40,146.04H310.40M294.00,69.00H310.40" stroke="#000" stroke-width="11.6" fill="none"/>
<path d="M310.40,1681.50V1696.80M391.18,1681.50V1696.80M448.50,1681.50V1696.80M492.96,1681.50V1696.80M529.28,1681.50V1696.80M559.99,1681.50V1696.80M586.60,1681.50V1696.80M610.06,1681.50V1696.80M631.06,1681.50V1713.00M769.15,1681.50V1696.80M849.94,1681.50V1696.80M907.25,1681.50V1696.80M951.71,1681.50V1696.80M988.04,1681.50V1696.80M1018.75,1681.50V1696.80M1045.35,1681.50V1696.80M1068.82,1681.50V1696.80M1089.81,1681.50V1713.00M1227.91,1681.50V1696.80M1308.69,1681.50V1696.80M1366.01,1681.50V1696.80M1410.47,1681.50V1696.80M1446.79,1681.50V1696.80M1477.50,1681.50V1696.80M1504.11,1681.50V1696.80M1527.57,1681.50V1696.80M1548.56,1681.50V1713.00M1686.66,1681.50V1696.80M1767.45,1681.50V1696.80M1824.76,1681.50V1696.80M1869.22,1681.50V1696.80M1905.54,1681.50V1696.80M1936.26,1681.50V1696.80M1962.86,1681.50V1696.80M1986.33,1681.50V1696.80M2007.32,1681.50V1713.00M2145.42,1681.50V1696.80M2226.20,1681.50V1696.80" stroke="#000" stroke-width="11.6" fill="none"/>
<line x1="448.50" y1="68.50" x2="448.50" y2="1681.50" stroke="#ff7f00" stroke-width="8"/>
<g font-family="'Liberation Serif','Times New Roman',serif" fill="#000">
<text x="163.2" y="1707.5" font-size="72">1<tspan dx="-3.5">0</tspan></text>
<text x="230.5" y="1678.5" font-size="51">0</text>
<text x="163.2" y="1451.6" font-size="72">1<tspan dx="-3.5">0</tspan></text>
<text x="230.5" y="1422.6" font-size="51">1</text>
<text x="163.2" y="1195.7" font-size="72">1<tspan dx="-3.5">0</tspan></text>
<text x="230.5" y="1166.7" font-size="51">2</text>
<text x="163.2" y="939.8" font-size="72">1<tspan dx="-3.5">0</tspan></text>
<text x="230.5" y="910.8" font-size="51">3</text>
<text x="163.2" y="683.9" font-size="72">1<tspan dx="-3.5">0</tspan></text>
<text x="230.5" y="654.9" font-size="51">4</text>
<text x="163.2" y="427.9" font-size="72">1<tspan dx="-3.5">0</tspan></text>
<text x="230.5" y="398.9" font-size="51">5</text>
<text x="163.2" y="172.0" font-size="72">1<tspan dx="-3.5">0</tspan></text>
<text x="230.5" y="143.0" font-size="51">6</text>
<text x="585.6" y="1800.7" font-size="72">1<tspan dx="-3">0</tspan></text>
<text x="653.1" y="1772.5" font-size="51">2</text>
<text x="1044.3" y="1800.7" font-size="72">1<tspan dx="-3">0</tspan></text>
<text x="1111.8" y="1772.5" font-size="51">3</text>
<text x="1503.1" y="1800.7" font-size="72">1<tspan dx="-3">0</tspan></text>
<text x="1570.6" y="1772.5" font-size="51">4</text>
<text x="1961.8" y="1800.7" font-size="72">1<tspan dx="-3">0</tspan></text>
<text x="2029.3" y="1772.5" font-size="51">5</text>
</g>
<text x="412.4" y="1743.5" font-family="'Liberation Serif','Times New Roman',serif" font-size="72" fill="#ff7f00">40</text>
<text x="870.0" y="1928.2" font-family="'Liberation Serif','Times New Roman',serif" font-size="86.5" fill="#000">Distance Threshold(m)</text>
<text transform="translate(126,1450) rotate(-90)" x="0" y="0" font-family="'Liberation Serif','Times New Roman',serif" font-size="86.5" fill="#000">Number of urban agglomerations</text>
<line x1="1788.4" y1="155.6" x2="1953.5" y2="155.6" stroke="#333333" stroke-width="6"/>
<text x="1965.6" y="179.5" font-family="'Liberation Serif','Times New Roman',serif" font-size="73" fill="#000">2015</text>
<line x1="1788.4" y1="243.1" x2="1953.5" y2="243.1" stroke="#c00000" stroke-width="6"/>
<text x="1965.6" y="267.0" font-family="'Liberation Serif','Times New Roman',serif" font-size="73" fill="#000">2016</text>
<line x1="1788.4" y1="330.6" x2="1953.5" y2="330.6" stroke="#0f479e" stroke-width="6"/>
<text x="1965.6" y="354.5" font-family="'Liberation Serif','Times New Roman',serif" font-size="73" fill="#000">2017</text>
<line x1="1788.4" y1="418.1" x2="1953.5" y2="418.1" stroke="#1d7a47" stroke-width="6"/>
<text x="1965.6" y="442.0" font-family="'Liberation Serif','Times New Roman',serif" font-size="73" fill="#000">2018</text>
<line x1="1788.4" y1="505.6" x2="1953.5" y2="505.6" stroke="#7a25c6" stroke-width="6"/>
<text x="1965.6" y="529.5" font-family="'Liberation Serif','Times New Roman',serif" font-size="73" fill="#000">2019</text>
<line x1="1788.4" y1="593.1" x2="1953.5" y2="593.1" stroke="#8a6400" stroke-width="6"/>
<text x="1965.6" y="617.0" font-family="'Liberation Serif','Times New Roman',serif" font-size="73" fill="#000">2020</text>
<line x1="1788.4" y1="680.6" x2="1953.5" y2="680.6" stroke="#008a88" stroke-width="6"/>
<text x="1965.6" y="704.5" font-family="'Liberation Serif','Times New Roman',serif" font-size="73" fill="#000">2021</text>
<line x1="1788.4" y1="768.1" x2="1953.5" y2="768.1" stroke="#4e2a2a" stroke-width="6"/>
<text x="1965.6" y="792.0" font-family="'Liberation Serif','Times New Roman',serif" font-size="73" fill="#000">2022</text>
</svg></body></html>
